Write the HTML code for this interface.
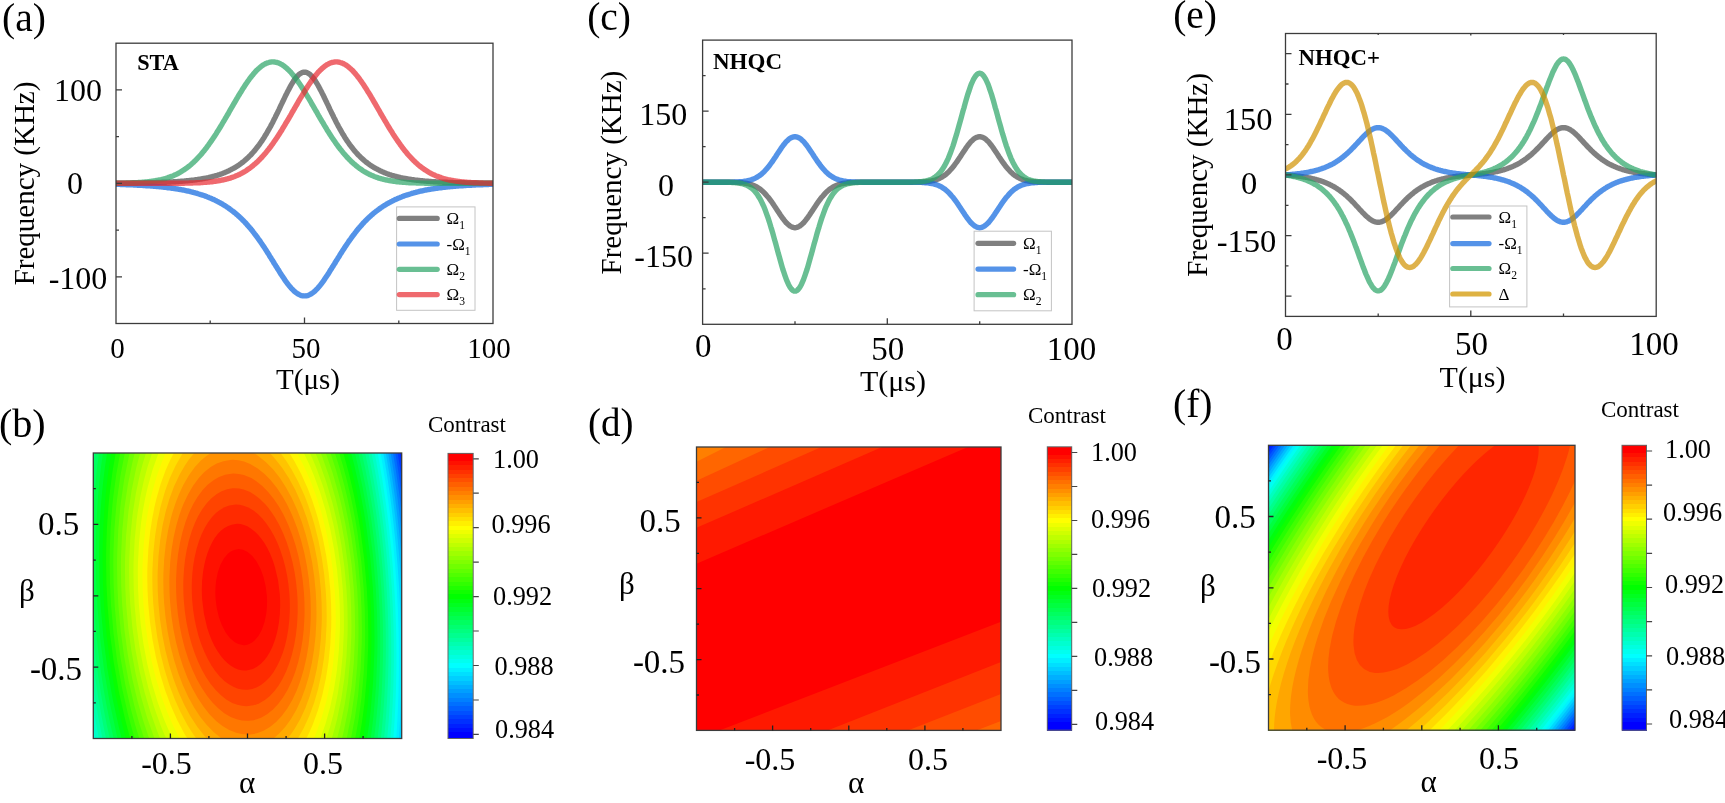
<!DOCTYPE html>
<html><head><meta charset="utf-8"><title>figure</title><style>html,body{margin:0;padding:0;background:#fff;overflow:hidden}svg{display:block;filter:blur(0.4px)}</style></head><body>
<svg width="1725" height="803" viewBox="0 0 1725 803" font-family='"Liberation Serif","DejaVu Serif",serif' fill="#000">
<rect width="1725" height="803" fill="#fff"/>
<clipPath id="cla"><rect x="116" y="43.2" width="377" height="280.3"/></clipPath>
<g clip-path="url(#cla)" fill="none" stroke-linecap="round" stroke-linejoin="round" stroke-width="5.4" >
<polyline stroke="#4a4a4a" stroke-opacity="0.7" points="116.0,183.2 116.9,183.2 117.9,183.2 118.8,183.2 119.8,183.1 120.7,183.1 121.7,183.1 122.6,183.1 123.5,183.1 124.5,183.1 125.4,183.1 126.4,183.1 127.3,183.1 128.3,183.1 129.2,183.1 130.1,183.1 131.1,183.0 132.0,183.0 133.0,183.0 133.9,183.0 134.8,183.0 135.8,183.0 136.7,183.0 137.7,183.0 138.6,182.9 139.6,182.9 140.5,182.9 141.4,182.9 142.4,182.9 143.3,182.9 144.3,182.8 145.2,182.8 146.2,182.8 147.1,182.8 148.0,182.8 149.0,182.7 149.9,182.7 150.9,182.7 151.8,182.7 152.8,182.6 153.7,182.6 154.6,182.6 155.6,182.6 156.5,182.5 157.5,182.5 158.4,182.5 159.4,182.4 160.3,182.4 161.2,182.4 162.2,182.3 163.1,182.3 164.1,182.3 165.0,182.2 166.0,182.2 166.9,182.1 167.8,182.1 168.8,182.1 169.7,182.0 170.7,182.0 171.6,181.9 172.6,181.9 173.5,181.8 174.4,181.7 175.4,181.7 176.3,181.6 177.3,181.6 178.2,181.5 179.1,181.4 180.1,181.4 181.0,181.3 182.0,181.2 182.9,181.1 183.9,181.1 184.8,181.0 185.7,180.9 186.7,180.8 187.6,180.7 188.6,180.6 189.5,180.5 190.5,180.4 191.4,180.3 192.3,180.2 193.3,180.1 194.2,180.0 195.2,179.8 196.1,179.7 197.1,179.6 198.0,179.4 198.9,179.3 199.9,179.1 200.8,179.0 201.8,178.8 202.7,178.7 203.7,178.5 204.6,178.3 205.5,178.1 206.5,178.0 207.4,177.8 208.4,177.6 209.3,177.3 210.2,177.1 211.2,176.9 212.1,176.7 213.1,176.4 214.0,176.2 215.0,175.9 215.9,175.6 216.8,175.4 217.8,175.1 218.7,174.8 219.7,174.5 220.6,174.1 221.6,173.8 222.5,173.5 223.4,173.1 224.4,172.7 225.3,172.3 226.3,171.9 227.2,171.5 228.2,171.1 229.1,170.7 230.0,170.2 231.0,169.7 231.9,169.2 232.9,168.7 233.8,168.2 234.8,167.6 235.7,167.1 236.6,166.5 237.6,165.9 238.5,165.3 239.5,164.6 240.4,163.9 241.4,163.2 242.3,162.5 243.2,161.8 244.2,161.0 245.1,160.2 246.1,159.4 247.0,158.5 247.9,157.7 248.9,156.8 249.8,155.8 250.8,154.9 251.7,153.9 252.7,152.8 253.6,151.8 254.5,150.7 255.5,149.5 256.4,148.3 257.4,147.1 258.3,145.9 259.3,144.6 260.2,143.3 261.1,142.0 262.1,140.6 263.0,139.1 264.0,137.7 264.9,136.1 265.9,134.6 266.8,133.0 267.7,131.4 268.7,129.7 269.6,128.0 270.6,126.3 271.5,124.5 272.5,122.7 273.4,120.9 274.3,119.0 275.3,117.2 276.2,115.2 277.2,113.3 278.1,111.4 279.1,109.4 280.0,107.4 280.9,105.4 281.9,103.4 282.8,101.4 283.8,99.5 284.7,97.5 285.6,95.6 286.6,93.7 287.5,91.8 288.5,90.0 289.4,88.2 290.4,86.4 291.3,84.8 292.2,83.2 293.2,81.7 294.1,80.2 295.1,78.9 296.0,77.7 297.0,76.6 297.9,75.6 298.8,74.7 299.8,73.9 300.7,73.3 301.7,72.8 302.6,72.4 303.6,72.2 304.5,72.2 305.4,72.2 306.4,72.4 307.3,72.8 308.3,73.3 309.2,73.9 310.2,74.7 311.1,75.6 312.0,76.6 313.0,77.7 313.9,78.9 314.9,80.2 315.8,81.7 316.8,83.2 317.7,84.8 318.6,86.4 319.6,88.2 320.5,90.0 321.5,91.8 322.4,93.7 323.4,95.6 324.3,97.5 325.2,99.5 326.2,101.4 327.1,103.4 328.1,105.4 329.0,107.4 329.9,109.4 330.9,111.4 331.8,113.3 332.8,115.2 333.7,117.2 334.7,119.0 335.6,120.9 336.5,122.7 337.5,124.5 338.4,126.3 339.4,128.0 340.3,129.7 341.3,131.4 342.2,133.0 343.1,134.6 344.1,136.1 345.0,137.7 346.0,139.1 346.9,140.6 347.9,142.0 348.8,143.3 349.7,144.6 350.7,145.9 351.6,147.1 352.6,148.3 353.5,149.5 354.5,150.7 355.4,151.8 356.3,152.8 357.3,153.9 358.2,154.9 359.2,155.8 360.1,156.8 361.1,157.7 362.0,158.5 362.9,159.4 363.9,160.2 364.8,161.0 365.8,161.8 366.7,162.5 367.6,163.2 368.6,163.9 369.5,164.6 370.5,165.3 371.4,165.9 372.4,166.5 373.3,167.1 374.2,167.6 375.2,168.2 376.1,168.7 377.1,169.2 378.0,169.7 379.0,170.2 379.9,170.7 380.8,171.1 381.8,171.5 382.7,171.9 383.7,172.3 384.6,172.7 385.6,173.1 386.5,173.5 387.4,173.8 388.4,174.1 389.3,174.5 390.3,174.8 391.2,175.1 392.2,175.4 393.1,175.6 394.0,175.9 395.0,176.2 395.9,176.4 396.9,176.7 397.8,176.9 398.8,177.1 399.7,177.3 400.6,177.6 401.6,177.8 402.5,178.0 403.5,178.1 404.4,178.3 405.3,178.5 406.3,178.7 407.2,178.8 408.2,179.0 409.1,179.1 410.1,179.3 411.0,179.4 411.9,179.6 412.9,179.7 413.8,179.8 414.8,180.0 415.7,180.1 416.7,180.2 417.6,180.3 418.5,180.4 419.5,180.5 420.4,180.6 421.4,180.7 422.3,180.8 423.3,180.9 424.2,181.0 425.1,181.1 426.1,181.1 427.0,181.2 428.0,181.3 428.9,181.4 429.9,181.4 430.8,181.5 431.7,181.6 432.7,181.6 433.6,181.7 434.6,181.7 435.5,181.8 436.4,181.9 437.4,181.9 438.3,182.0 439.3,182.0 440.2,182.1 441.2,182.1 442.1,182.1 443.0,182.2 444.0,182.2 444.9,182.3 445.9,182.3 446.8,182.3 447.8,182.4 448.7,182.4 449.6,182.4 450.6,182.5 451.5,182.5 452.5,182.5 453.4,182.6 454.4,182.6 455.3,182.6 456.2,182.6 457.2,182.7 458.1,182.7 459.1,182.7 460.0,182.7 461.0,182.8 461.9,182.8 462.8,182.8 463.8,182.8 464.7,182.8 465.7,182.9 466.6,182.9 467.6,182.9 468.5,182.9 469.4,182.9 470.4,182.9 471.3,183.0 472.3,183.0 473.2,183.0 474.1,183.0 475.1,183.0 476.0,183.0 477.0,183.0 477.9,183.0 478.9,183.1 479.8,183.1 480.7,183.1 481.7,183.1 482.6,183.1 483.6,183.1 484.5,183.1 485.5,183.1 486.4,183.1 487.3,183.1 488.3,183.1 489.2,183.1 490.2,183.2 491.1,183.2 492.1,183.2 493.0,183.2"/>
<polyline stroke="#0c65de" stroke-opacity="0.7" points="116.0,184.3 116.9,184.3 117.9,184.4 118.8,184.4 119.8,184.4 120.7,184.5 121.7,184.5 122.6,184.5 123.5,184.6 124.5,184.6 125.4,184.6 126.4,184.7 127.3,184.7 128.3,184.7 129.2,184.8 130.1,184.8 131.1,184.8 132.0,184.9 133.0,184.9 133.9,185.0 134.8,185.0 135.8,185.1 136.7,185.1 137.7,185.2 138.6,185.2 139.6,185.3 140.5,185.3 141.4,185.4 142.4,185.4 143.3,185.5 144.3,185.5 145.2,185.6 146.2,185.7 147.1,185.7 148.0,185.8 149.0,185.9 149.9,185.9 150.9,186.0 151.8,186.1 152.8,186.1 153.7,186.2 154.6,186.3 155.6,186.4 156.5,186.5 157.5,186.6 158.4,186.6 159.4,186.7 160.3,186.8 161.2,186.9 162.2,187.0 163.1,187.1 164.1,187.2 165.0,187.3 166.0,187.4 166.9,187.6 167.8,187.7 168.8,187.8 169.7,187.9 170.7,188.0 171.6,188.2 172.6,188.3 173.5,188.4 174.4,188.6 175.4,188.7 176.3,188.9 177.3,189.0 178.2,189.2 179.1,189.4 180.1,189.5 181.0,189.7 182.0,189.9 182.9,190.0 183.9,190.2 184.8,190.4 185.7,190.6 186.7,190.8 187.6,191.0 188.6,191.2 189.5,191.4 190.5,191.7 191.4,191.9 192.3,192.1 193.3,192.4 194.2,192.6 195.2,192.9 196.1,193.1 197.1,193.4 198.0,193.7 198.9,194.0 199.9,194.3 200.8,194.6 201.8,194.9 202.7,195.2 203.7,195.5 204.6,195.8 205.5,196.2 206.5,196.5 207.4,196.9 208.4,197.3 209.3,197.7 210.2,198.0 211.2,198.4 212.1,198.9 213.1,199.3 214.0,199.7 215.0,200.2 215.9,200.6 216.8,201.1 217.8,201.6 218.7,202.1 219.7,202.6 220.6,203.1 221.6,203.7 222.5,204.2 223.4,204.8 224.4,205.3 225.3,205.9 226.3,206.6 227.2,207.2 228.2,207.8 229.1,208.5 230.0,209.2 231.0,209.9 231.9,210.6 232.9,211.3 233.8,212.0 234.8,212.8 235.7,213.6 236.6,214.4 237.6,215.2 238.5,216.1 239.5,216.9 240.4,217.8 241.4,218.7 242.3,219.6 243.2,220.6 244.2,221.5 245.1,222.5 246.1,223.5 247.0,224.6 247.9,225.6 248.9,226.7 249.8,227.8 250.8,228.9 251.7,230.1 252.7,231.3 253.6,232.5 254.5,233.7 255.5,234.9 256.4,236.2 257.4,237.5 258.3,238.8 259.3,240.1 260.2,241.4 261.1,242.8 262.1,244.2 263.0,245.6 264.0,247.0 264.9,248.4 265.9,249.9 266.8,251.4 267.7,252.9 268.7,254.3 269.6,255.9 270.6,257.4 271.5,258.9 272.5,260.4 273.4,262.0 274.3,263.5 275.3,265.0 276.2,266.6 277.2,268.1 278.1,269.6 279.1,271.1 280.0,272.6 280.9,274.1 281.9,275.5 282.8,276.9 283.8,278.3 284.7,279.7 285.6,281.1 286.6,282.4 287.5,283.6 288.5,284.9 289.4,286.0 290.4,287.1 291.3,288.2 292.2,289.2 293.2,290.2 294.1,291.1 295.1,291.9 296.0,292.6 297.0,293.3 297.9,293.9 298.8,294.4 299.8,294.9 300.7,295.3 301.7,295.6 302.6,295.8 303.6,295.9 304.5,295.9 305.4,295.9 306.4,295.8 307.3,295.6 308.3,295.3 309.2,294.9 310.2,294.4 311.1,293.9 312.0,293.3 313.0,292.6 313.9,291.9 314.9,291.1 315.8,290.2 316.8,289.2 317.7,288.2 318.6,287.1 319.6,286.0 320.5,284.9 321.5,283.6 322.4,282.4 323.4,281.1 324.3,279.7 325.2,278.3 326.2,276.9 327.1,275.5 328.1,274.1 329.0,272.6 329.9,271.1 330.9,269.6 331.8,268.1 332.8,266.6 333.7,265.0 334.7,263.5 335.6,262.0 336.5,260.4 337.5,258.9 338.4,257.4 339.4,255.9 340.3,254.3 341.3,252.9 342.2,251.4 343.1,249.9 344.1,248.4 345.0,247.0 346.0,245.6 346.9,244.2 347.9,242.8 348.8,241.4 349.7,240.1 350.7,238.8 351.6,237.5 352.6,236.2 353.5,234.9 354.5,233.7 355.4,232.5 356.3,231.3 357.3,230.1 358.2,228.9 359.2,227.8 360.1,226.7 361.1,225.6 362.0,224.6 362.9,223.5 363.9,222.5 364.8,221.5 365.8,220.6 366.7,219.6 367.6,218.7 368.6,217.8 369.5,216.9 370.5,216.1 371.4,215.2 372.4,214.4 373.3,213.6 374.2,212.8 375.2,212.0 376.1,211.3 377.1,210.6 378.0,209.9 379.0,209.2 379.9,208.5 380.8,207.8 381.8,207.2 382.7,206.6 383.7,205.9 384.6,205.3 385.6,204.8 386.5,204.2 387.4,203.7 388.4,203.1 389.3,202.6 390.3,202.1 391.2,201.6 392.2,201.1 393.1,200.6 394.0,200.2 395.0,199.7 395.9,199.3 396.9,198.9 397.8,198.4 398.8,198.0 399.7,197.7 400.6,197.3 401.6,196.9 402.5,196.5 403.5,196.2 404.4,195.8 405.3,195.5 406.3,195.2 407.2,194.9 408.2,194.6 409.1,194.3 410.1,194.0 411.0,193.7 411.9,193.4 412.9,193.1 413.8,192.9 414.8,192.6 415.7,192.4 416.7,192.1 417.6,191.9 418.5,191.7 419.5,191.4 420.4,191.2 421.4,191.0 422.3,190.8 423.3,190.6 424.2,190.4 425.1,190.2 426.1,190.0 427.0,189.9 428.0,189.7 428.9,189.5 429.9,189.4 430.8,189.2 431.7,189.0 432.7,188.9 433.6,188.7 434.6,188.6 435.5,188.4 436.4,188.3 437.4,188.2 438.3,188.0 439.3,187.9 440.2,187.8 441.2,187.7 442.1,187.6 443.0,187.4 444.0,187.3 444.9,187.2 445.9,187.1 446.8,187.0 447.8,186.9 448.7,186.8 449.6,186.7 450.6,186.6 451.5,186.6 452.5,186.5 453.4,186.4 454.4,186.3 455.3,186.2 456.2,186.1 457.2,186.1 458.1,186.0 459.1,185.9 460.0,185.9 461.0,185.8 461.9,185.7 462.8,185.7 463.8,185.6 464.7,185.5 465.7,185.5 466.6,185.4 467.6,185.4 468.5,185.3 469.4,185.3 470.4,185.2 471.3,185.2 472.3,185.1 473.2,185.1 474.1,185.0 475.1,185.0 476.0,184.9 477.0,184.9 477.9,184.8 478.9,184.8 479.8,184.8 480.7,184.7 481.7,184.7 482.6,184.7 483.6,184.6 484.5,184.6 485.5,184.6 486.4,184.5 487.3,184.5 488.3,184.5 489.2,184.4 490.2,184.4 491.1,184.4 492.1,184.3 493.0,184.3"/>
<polyline stroke="#29a465" stroke-opacity="0.7" points="116.0,183.2 116.9,183.2 117.9,183.2 118.8,183.2 119.8,183.2 120.7,183.2 121.7,183.1 122.6,183.1 123.5,183.1 124.5,183.1 125.4,183.1 126.4,183.0 127.3,183.0 128.3,183.0 129.2,183.0 130.1,182.9 131.1,182.9 132.0,182.9 133.0,182.8 133.9,182.8 134.8,182.7 135.8,182.7 136.7,182.6 137.7,182.6 138.6,182.5 139.6,182.5 140.5,182.4 141.4,182.4 142.4,182.3 143.3,182.2 144.3,182.1 145.2,182.0 146.2,182.0 147.1,181.9 148.0,181.8 149.0,181.6 149.9,181.5 150.9,181.4 151.8,181.3 152.8,181.2 153.7,181.0 154.6,180.9 155.6,180.7 156.5,180.5 157.5,180.4 158.4,180.2 159.4,180.0 160.3,179.8 161.2,179.6 162.2,179.3 163.1,179.1 164.1,178.8 165.0,178.6 166.0,178.3 166.9,178.0 167.8,177.7 168.8,177.4 169.7,177.0 170.7,176.7 171.6,176.3 172.6,176.0 173.5,175.6 174.4,175.1 175.4,174.7 176.3,174.3 177.3,173.8 178.2,173.3 179.1,172.8 180.1,172.3 181.0,171.7 182.0,171.1 182.9,170.5 183.9,169.9 184.8,169.3 185.7,168.6 186.7,168.0 187.6,167.2 188.6,166.5 189.5,165.8 190.5,165.0 191.4,164.2 192.3,163.3 193.3,162.5 194.2,161.6 195.2,160.7 196.1,159.7 197.1,158.8 198.0,157.8 198.9,156.8 199.9,155.7 200.8,154.7 201.8,153.6 202.7,152.4 203.7,151.3 204.6,150.1 205.5,148.9 206.5,147.7 207.4,146.4 208.4,145.1 209.3,143.8 210.2,142.5 211.2,141.2 212.1,139.8 213.1,138.4 214.0,137.0 215.0,135.5 215.9,134.1 216.8,132.6 217.8,131.1 218.7,129.6 219.7,128.0 220.6,126.5 221.6,124.9 222.5,123.3 223.4,121.7 224.4,120.1 225.3,118.5 226.3,116.9 227.2,115.3 228.2,113.7 229.1,112.0 230.0,110.4 231.0,108.7 231.9,107.1 232.9,105.5 233.8,103.8 234.8,102.2 235.7,100.6 236.6,99.0 237.6,97.4 238.5,95.8 239.5,94.2 240.4,92.7 241.4,91.2 242.3,89.7 243.2,88.2 244.2,86.7 245.1,85.3 246.1,83.8 247.0,82.5 247.9,81.1 248.9,79.8 249.8,78.5 250.8,77.3 251.7,76.1 252.7,74.9 253.6,73.8 254.5,72.7 255.5,71.6 256.4,70.6 257.4,69.7 258.3,68.8 259.3,68.0 260.2,67.2 261.1,66.4 262.1,65.7 263.0,65.1 264.0,64.5 264.9,64.0 265.9,63.5 266.8,63.1 267.7,62.8 268.7,62.5 269.6,62.2 270.6,62.1 271.5,61.9 272.5,61.9 273.4,61.9 274.3,62.0 275.3,62.1 276.2,62.3 277.2,62.5 278.1,62.8 279.1,63.2 280.0,63.6 280.9,64.1 281.9,64.6 282.8,65.2 283.8,65.9 284.7,66.6 285.6,67.3 286.6,68.1 287.5,69.0 288.5,69.9 289.4,70.8 290.4,71.8 291.3,72.9 292.2,74.0 293.2,75.1 294.1,76.3 295.1,77.5 296.0,78.8 297.0,80.1 297.9,81.4 298.8,82.7 299.8,84.1 300.7,85.5 301.7,87.0 302.6,88.5 303.6,90.0 304.5,91.5 305.4,93.0 306.4,94.6 307.3,96.1 308.3,97.7 309.2,99.3 310.2,100.9 311.1,102.5 312.0,104.2 313.0,105.8 313.9,107.4 314.9,109.1 315.8,110.7 316.8,112.3 317.7,114.0 318.6,115.6 319.6,117.2 320.5,118.9 321.5,120.5 322.4,122.1 323.4,123.6 324.3,125.2 325.2,126.8 326.2,128.3 327.1,129.9 328.1,131.4 329.0,132.9 329.9,134.4 330.9,135.8 331.8,137.3 332.8,138.7 333.7,140.1 334.7,141.4 335.6,142.8 336.5,144.1 337.5,145.4 338.4,146.7 339.4,147.9 340.3,149.2 341.3,150.3 342.2,151.5 343.1,152.7 344.1,153.8 345.0,154.9 346.0,155.9 346.9,157.0 347.9,158.0 348.8,159.0 349.7,159.9 350.7,160.9 351.6,161.8 352.6,162.6 353.5,163.5 354.5,164.3 355.4,165.1 356.3,165.9 357.3,166.7 358.2,167.4 359.2,168.1 360.1,168.8 361.1,169.4 362.0,170.1 362.9,170.7 363.9,171.3 364.8,171.8 365.8,172.4 366.7,172.9 367.6,173.4 368.6,173.9 369.5,174.4 370.5,174.8 371.4,175.2 372.4,175.6 373.3,176.0 374.2,176.4 375.2,176.8 376.1,177.1 377.1,177.4 378.0,177.8 379.0,178.1 379.9,178.4 380.8,178.6 381.8,178.9 382.7,179.1 383.7,179.4 384.6,179.6 385.6,179.8 386.5,180.0 387.4,180.2 388.4,180.4 389.3,180.6 390.3,180.7 391.2,180.9 392.2,181.0 393.1,181.2 394.0,181.3 395.0,181.4 395.9,181.6 396.9,181.7 397.8,181.8 398.8,181.9 399.7,182.0 400.6,182.1 401.6,182.1 402.5,182.2 403.5,182.3 404.4,182.4 405.3,182.4 406.3,182.5 407.2,182.6 408.2,182.6 409.1,182.7 410.1,182.7 411.0,182.8 411.9,182.8 412.9,182.8 413.8,182.9 414.8,182.9 415.7,182.9 416.7,183.0 417.6,183.0 418.5,183.0 419.5,183.0 420.4,183.1 421.4,183.1 422.3,183.1 423.3,183.1 424.2,183.1 425.1,183.2 426.1,183.2 427.0,183.2 428.0,183.2 428.9,183.2 429.9,183.2 430.8,183.2 431.7,183.2 432.7,183.3 433.6,183.3 434.6,183.3 435.5,183.3 436.4,183.3 437.4,183.3 438.3,183.3 439.3,183.3 440.2,183.3 441.2,183.3 442.1,183.3 443.0,183.3 444.0,183.3 444.9,183.3 445.9,183.3 446.8,183.3 447.8,183.3 448.7,183.3 449.6,183.3 450.6,183.3 451.5,183.3 452.5,183.3 453.4,183.3 454.4,183.3 455.3,183.3 456.2,183.3 457.2,183.3 458.1,183.3 459.1,183.3 460.0,183.3 461.0,183.3 461.9,183.3 462.8,183.3 463.8,183.3 464.7,183.3 465.7,183.3 466.6,183.3 467.6,183.3 468.5,183.3 469.4,183.3 470.4,183.3 471.3,183.3 472.3,183.3 473.2,183.3 474.1,183.3 475.1,183.3 476.0,183.3 477.0,183.3 477.9,183.3 478.9,183.3 479.8,183.3 480.7,183.3 481.7,183.3 482.6,183.3 483.6,183.3 484.5,183.3 485.5,183.3 486.4,183.3 487.3,183.3 488.3,183.3 489.2,183.3 490.2,183.3 491.1,183.3 492.1,183.3 493.0,183.3"/>
<polyline stroke="#e82a30" stroke-opacity="0.7" points="116.0,183.3 116.9,183.3 117.9,183.3 118.8,183.3 119.8,183.3 120.7,183.3 121.7,183.3 122.6,183.3 123.5,183.3 124.5,183.3 125.4,183.3 126.4,183.3 127.3,183.3 128.3,183.3 129.2,183.3 130.1,183.3 131.1,183.3 132.0,183.3 133.0,183.3 133.9,183.3 134.8,183.3 135.8,183.3 136.7,183.3 137.7,183.3 138.6,183.3 139.6,183.3 140.5,183.3 141.4,183.3 142.4,183.3 143.3,183.3 144.3,183.3 145.2,183.3 146.2,183.3 147.1,183.3 148.0,183.3 149.0,183.3 149.9,183.3 150.9,183.3 151.8,183.3 152.8,183.3 153.7,183.3 154.6,183.3 155.6,183.3 156.5,183.3 157.5,183.3 158.4,183.3 159.4,183.3 160.3,183.3 161.2,183.3 162.2,183.3 163.1,183.3 164.1,183.3 165.0,183.3 166.0,183.3 166.9,183.3 167.8,183.3 168.8,183.3 169.7,183.3 170.7,183.3 171.6,183.3 172.6,183.3 173.5,183.3 174.4,183.3 175.4,183.3 176.3,183.3 177.3,183.2 178.2,183.2 179.1,183.2 180.1,183.2 181.0,183.2 182.0,183.2 182.9,183.2 183.9,183.2 184.8,183.1 185.7,183.1 186.7,183.1 187.6,183.1 188.6,183.1 189.5,183.0 190.5,183.0 191.4,183.0 192.3,183.0 193.3,182.9 194.2,182.9 195.2,182.9 196.1,182.8 197.1,182.8 198.0,182.8 198.9,182.7 199.9,182.7 200.8,182.6 201.8,182.6 202.7,182.5 203.7,182.4 204.6,182.4 205.5,182.3 206.5,182.2 207.4,182.1 208.4,182.1 209.3,182.0 210.2,181.9 211.2,181.8 212.1,181.7 213.1,181.6 214.0,181.4 215.0,181.3 215.9,181.2 216.8,181.0 217.8,180.9 218.7,180.7 219.7,180.6 220.6,180.4 221.6,180.2 222.5,180.0 223.4,179.8 224.4,179.6 225.3,179.4 226.3,179.1 227.2,178.9 228.2,178.6 229.1,178.4 230.0,178.1 231.0,177.8 231.9,177.4 232.9,177.1 233.8,176.8 234.8,176.4 235.7,176.0 236.6,175.6 237.6,175.2 238.5,174.8 239.5,174.4 240.4,173.9 241.4,173.4 242.3,172.9 243.2,172.4 244.2,171.8 245.1,171.3 246.1,170.7 247.0,170.1 247.9,169.4 248.9,168.8 249.8,168.1 250.8,167.4 251.7,166.7 252.7,165.9 253.6,165.1 254.5,164.3 255.5,163.5 256.4,162.6 257.4,161.8 258.3,160.9 259.3,159.9 260.2,159.0 261.1,158.0 262.1,157.0 263.0,155.9 264.0,154.9 264.9,153.8 265.9,152.7 266.8,151.5 267.7,150.3 268.7,149.2 269.6,147.9 270.6,146.7 271.5,145.4 272.5,144.1 273.4,142.8 274.3,141.4 275.3,140.1 276.2,138.7 277.2,137.3 278.1,135.8 279.1,134.4 280.0,132.9 280.9,131.4 281.9,129.9 282.8,128.3 283.8,126.8 284.7,125.2 285.6,123.6 286.6,122.1 287.5,120.5 288.5,118.9 289.4,117.2 290.4,115.6 291.3,114.0 292.2,112.3 293.2,110.7 294.1,109.1 295.1,107.4 296.0,105.8 297.0,104.2 297.9,102.5 298.8,100.9 299.8,99.3 300.7,97.7 301.7,96.1 302.6,94.6 303.6,93.0 304.5,91.5 305.4,90.0 306.4,88.5 307.3,87.0 308.3,85.5 309.2,84.1 310.2,82.7 311.1,81.4 312.0,80.1 313.0,78.8 313.9,77.5 314.9,76.3 315.8,75.1 316.8,74.0 317.7,72.9 318.6,71.8 319.6,70.8 320.5,69.9 321.5,69.0 322.4,68.1 323.4,67.3 324.3,66.6 325.2,65.9 326.2,65.2 327.1,64.6 328.1,64.1 329.0,63.6 329.9,63.2 330.9,62.8 331.8,62.5 332.8,62.3 333.7,62.1 334.7,62.0 335.6,61.9 336.5,61.9 337.5,61.9 338.4,62.1 339.4,62.2 340.3,62.5 341.3,62.8 342.2,63.1 343.1,63.5 344.1,64.0 345.0,64.5 346.0,65.1 346.9,65.7 347.9,66.4 348.8,67.2 349.7,68.0 350.7,68.8 351.6,69.7 352.6,70.6 353.5,71.6 354.5,72.7 355.4,73.8 356.3,74.9 357.3,76.1 358.2,77.3 359.2,78.5 360.1,79.8 361.1,81.1 362.0,82.5 362.9,83.8 363.9,85.3 364.8,86.7 365.8,88.2 366.7,89.7 367.6,91.2 368.6,92.7 369.5,94.2 370.5,95.8 371.4,97.4 372.4,99.0 373.3,100.6 374.2,102.2 375.2,103.8 376.1,105.5 377.1,107.1 378.0,108.7 379.0,110.4 379.9,112.0 380.8,113.7 381.8,115.3 382.7,116.9 383.7,118.5 384.6,120.1 385.6,121.7 386.5,123.3 387.4,124.9 388.4,126.5 389.3,128.0 390.3,129.6 391.2,131.1 392.2,132.6 393.1,134.1 394.0,135.5 395.0,137.0 395.9,138.4 396.9,139.8 397.8,141.2 398.8,142.5 399.7,143.8 400.6,145.1 401.6,146.4 402.5,147.7 403.5,148.9 404.4,150.1 405.3,151.3 406.3,152.4 407.2,153.6 408.2,154.7 409.1,155.7 410.1,156.8 411.0,157.8 411.9,158.8 412.9,159.7 413.8,160.7 414.8,161.6 415.7,162.5 416.7,163.3 417.6,164.2 418.5,165.0 419.5,165.8 420.4,166.5 421.4,167.2 422.3,168.0 423.3,168.6 424.2,169.3 425.1,169.9 426.1,170.5 427.0,171.1 428.0,171.7 428.9,172.3 429.9,172.8 430.8,173.3 431.7,173.8 432.7,174.3 433.6,174.7 434.6,175.1 435.5,175.6 436.4,176.0 437.4,176.3 438.3,176.7 439.3,177.0 440.2,177.4 441.2,177.7 442.1,178.0 443.0,178.3 444.0,178.6 444.9,178.8 445.9,179.1 446.8,179.3 447.8,179.6 448.7,179.8 449.6,180.0 450.6,180.2 451.5,180.4 452.5,180.5 453.4,180.7 454.4,180.9 455.3,181.0 456.2,181.2 457.2,181.3 458.1,181.4 459.1,181.5 460.0,181.6 461.0,181.8 461.9,181.9 462.8,182.0 463.8,182.0 464.7,182.1 465.7,182.2 466.6,182.3 467.6,182.4 468.5,182.4 469.4,182.5 470.4,182.5 471.3,182.6 472.3,182.6 473.2,182.7 474.1,182.7 475.1,182.8 476.0,182.8 477.0,182.9 477.9,182.9 478.9,182.9 479.8,183.0 480.7,183.0 481.7,183.0 482.6,183.0 483.6,183.1 484.5,183.1 485.5,183.1 486.4,183.1 487.3,183.1 488.3,183.2 489.2,183.2 490.2,183.2 491.1,183.2 492.1,183.2 493.0,183.2"/>
</g>
<rect x="116" y="43.2" width="377" height="280.3" fill="none" stroke="#3c3c3c" stroke-width="1.3"/>
<path d="M210.2 323.5v-3 M304.5 323.5v-6 M398.8 323.5v-3 M116 89.9h6 M116 136.6h3 M116 183.4h6 M116 230.1h3 M116 276.8h6" stroke="#3c3c3c" stroke-width="1.3" fill="none"/>
<text x="117.5" y="357.5" font-size="29" text-anchor="middle" font-weight="normal" >0</text>
<text x="306.0" y="357.5" font-size="29" text-anchor="middle" font-weight="normal" >50</text>
<text x="489.0" y="357.5" font-size="29" text-anchor="middle" font-weight="normal" >100</text>
<text x="308.0" y="388.5" font-size="29" text-anchor="middle" font-weight="normal" >T(μs)</text>
<text x="78.0" y="100.8" font-size="32" text-anchor="middle" font-weight="normal" >100</text>
<text x="75.0" y="194.0" font-size="32" text-anchor="middle" font-weight="normal" >0</text>
<text x="78.0" y="289.4" font-size="32" text-anchor="middle" font-weight="normal" >-100</text>
<text transform="translate(33.5,183.5) rotate(-90)" font-size="29" text-anchor="middle">Frequency (KHz)</text>
<text x="137.2" y="69.7" font-size="22.3" text-anchor="start" font-weight="bold" >STA</text>
<text x="2.0" y="30.5" font-size="39.5" text-anchor="start" font-weight="normal" >(a)</text>
<rect x="396.6" y="206.9" width="78.39999999999998" height="103.4" fill="#fff" stroke="#c4c4c4" stroke-width="1"/>
<line x1="399.3" y1="218.4" x2="437.2" y2="218.4" stroke="#808080" stroke-width="5.2" stroke-linecap="round"/>
<text x="446.5" y="224.0" font-size="17">Ω<tspan font-size="11.6" dy="5.1">1</tspan></text>
<line x1="399.3" y1="244" x2="437.2" y2="244" stroke="#5593e8" stroke-width="5.2" stroke-linecap="round"/>
<text x="446.5" y="249.6" font-size="17">-Ω<tspan font-size="11.6" dy="5.1">1</tspan></text>
<line x1="399.3" y1="269.3" x2="437.2" y2="269.3" stroke="#69bf93" stroke-width="5.2" stroke-linecap="round"/>
<text x="446.5" y="274.9" font-size="17">Ω<tspan font-size="11.6" dy="5.1">2</tspan></text>
<line x1="399.3" y1="294.6" x2="437.2" y2="294.6" stroke="#ef6a6e" stroke-width="5.2" stroke-linecap="round"/>
<text x="446.5" y="300.2" font-size="17">Ω<tspan font-size="11.6" dy="5.1">3</tspan></text>
<clipPath id="clc"><rect x="702.6" y="40.1" width="369.4" height="284.2"/></clipPath>
<g clip-path="url(#clc)" fill="none" stroke-linecap="round" stroke-linejoin="round" stroke-width="5.4" >
<polyline stroke="#4a4a4a" stroke-opacity="0.7" points="702.6,182.2 703.5,182.2 704.4,182.2 705.4,182.2 706.3,182.2 707.2,182.2 708.1,182.2 709.1,182.2 710.0,182.2 710.9,182.2 711.8,182.2 712.8,182.2 713.7,182.2 714.6,182.2 715.5,182.2 716.5,182.2 717.4,182.2 718.3,182.2 719.2,182.2 720.1,182.2 721.1,182.2 722.0,182.2 722.9,182.2 723.8,182.2 724.8,182.2 725.7,182.2 726.6,182.2 727.5,182.2 728.5,182.3 729.4,182.3 730.3,182.3 731.2,182.3 732.2,182.3 733.1,182.3 734.0,182.3 734.9,182.4 735.8,182.4 736.8,182.4 737.7,182.5 738.6,182.5 739.5,182.6 740.5,182.7 741.4,182.7 742.3,182.8 743.2,182.9 744.2,183.1 745.1,183.2 746.0,183.3 746.9,183.5 747.9,183.7 748.8,183.9 749.7,184.1 750.6,184.4 751.5,184.7 752.5,185.0 753.4,185.4 754.3,185.8 755.2,186.2 756.2,186.7 757.1,187.2 758.0,187.8 758.9,188.4 759.9,189.0 760.8,189.7 761.7,190.5 762.6,191.3 763.6,192.2 764.5,193.1 765.4,194.1 766.3,195.1 767.2,196.2 768.2,197.3 769.1,198.4 770.0,199.7 770.9,200.9 771.9,202.2 772.8,203.5 773.7,204.9 774.6,206.3 775.6,207.7 776.5,209.1 777.4,210.5 778.3,211.9 779.3,213.3 780.2,214.7 781.1,216.0 782.0,217.4 782.9,218.6 783.9,219.8 784.8,221.0 785.7,222.1 786.6,223.1 787.6,224.0 788.5,224.8 789.4,225.6 790.3,226.2 791.3,226.7 792.2,227.1 793.1,227.4 794.0,227.6 795.0,227.7 795.9,227.6 796.8,227.4 797.7,227.1 798.6,226.7 799.6,226.2 800.5,225.6 801.4,224.8 802.3,224.0 803.3,223.1 804.2,222.1 805.1,221.0 806.0,219.8 807.0,218.6 807.9,217.4 808.8,216.0 809.7,214.7 810.6,213.3 811.6,211.9 812.5,210.5 813.4,209.1 814.3,207.7 815.3,206.3 816.2,204.9 817.1,203.5 818.0,202.2 819.0,200.9 819.9,199.7 820.8,198.4 821.7,197.3 822.7,196.2 823.6,195.1 824.5,194.1 825.4,193.1 826.3,192.2 827.3,191.3 828.2,190.5 829.1,189.7 830.0,189.0 831.0,188.4 831.9,187.8 832.8,187.2 833.7,186.7 834.7,186.2 835.6,185.8 836.5,185.4 837.4,185.0 838.4,184.7 839.3,184.4 840.2,184.1 841.1,183.9 842.0,183.7 843.0,183.5 843.9,183.3 844.8,183.2 845.7,183.1 846.7,182.9 847.6,182.8 848.5,182.7 849.4,182.7 850.4,182.6 851.3,182.5 852.2,182.5 853.1,182.4 854.1,182.4 855.0,182.4 855.9,182.3 856.8,182.3 857.7,182.3 858.7,182.3 859.6,182.3 860.5,182.3 861.4,182.3 862.4,182.2 863.3,182.2 864.2,182.2 865.1,182.2 866.1,182.2 867.0,182.2 867.9,182.2 868.8,182.2 869.8,182.2 870.7,182.2 871.6,182.2 872.5,182.2 873.4,182.2 874.4,182.2 875.3,182.2 876.2,182.2 877.1,182.2 878.1,182.2 879.0,182.2 879.9,182.2 880.8,182.2 881.8,182.2 882.7,182.2 883.6,182.2 884.5,182.2 885.5,182.2 886.4,182.2 887.3,182.2 888.2,182.2 889.1,182.2 890.1,182.2 891.0,182.2 891.9,182.2 892.8,182.2 893.8,182.2 894.7,182.2 895.6,182.2 896.5,182.2 897.5,182.2 898.4,182.2 899.3,182.2 900.2,182.2 901.2,182.2 902.1,182.2 903.0,182.2 903.9,182.2 904.8,182.2 905.8,182.2 906.7,182.2 907.6,182.2 908.5,182.2 909.5,182.2 910.4,182.2 911.3,182.2 912.2,182.2 913.2,182.1 914.1,182.1 915.0,182.1 915.9,182.1 916.9,182.1 917.8,182.1 918.7,182.1 919.6,182.0 920.5,182.0 921.5,182.0 922.4,181.9 923.3,181.9 924.2,181.8 925.2,181.7 926.1,181.7 927.0,181.6 927.9,181.5 928.9,181.3 929.8,181.2 930.7,181.1 931.6,180.9 932.6,180.7 933.5,180.5 934.4,180.3 935.3,180.0 936.2,179.7 937.2,179.4 938.1,179.0 939.0,178.6 939.9,178.2 940.9,177.7 941.8,177.2 942.7,176.6 943.6,176.0 944.6,175.4 945.5,174.7 946.4,173.9 947.3,173.1 948.3,172.2 949.2,171.3 950.1,170.3 951.0,169.3 951.9,168.2 952.9,167.1 953.8,166.0 954.7,164.7 955.6,163.5 956.6,162.2 957.5,160.9 958.4,159.5 959.3,158.1 960.3,156.7 961.2,155.3 962.1,153.9 963.0,152.5 964.0,151.1 964.9,149.7 965.8,148.4 966.7,147.0 967.6,145.8 968.6,144.6 969.5,143.4 970.4,142.3 971.3,141.3 972.3,140.4 973.2,139.6 974.1,138.8 975.0,138.2 976.0,137.7 976.9,137.3 977.8,137.0 978.7,136.8 979.7,136.7 980.6,136.8 981.5,137.0 982.4,137.3 983.3,137.7 984.3,138.2 985.2,138.8 986.1,139.6 987.0,140.4 988.0,141.3 988.9,142.3 989.8,143.4 990.7,144.6 991.7,145.8 992.6,147.0 993.5,148.4 994.4,149.7 995.3,151.1 996.3,152.5 997.2,153.9 998.1,155.3 999.0,156.7 1000.0,158.1 1000.9,159.5 1001.8,160.9 1002.7,162.2 1003.7,163.5 1004.6,164.7 1005.5,166.0 1006.4,167.1 1007.4,168.2 1008.3,169.3 1009.2,170.3 1010.1,171.3 1011.0,172.2 1012.0,173.1 1012.9,173.9 1013.8,174.7 1014.7,175.4 1015.7,176.0 1016.6,176.6 1017.5,177.2 1018.4,177.7 1019.4,178.2 1020.3,178.6 1021.2,179.0 1022.1,179.4 1023.1,179.7 1024.0,180.0 1024.9,180.3 1025.8,180.5 1026.7,180.7 1027.7,180.9 1028.6,181.1 1029.5,181.2 1030.4,181.3 1031.4,181.5 1032.3,181.6 1033.2,181.7 1034.1,181.7 1035.1,181.8 1036.0,181.9 1036.9,181.9 1037.8,182.0 1038.8,182.0 1039.7,182.0 1040.6,182.1 1041.5,182.1 1042.4,182.1 1043.4,182.1 1044.3,182.1 1045.2,182.1 1046.1,182.1 1047.1,182.2 1048.0,182.2 1048.9,182.2 1049.8,182.2 1050.8,182.2 1051.7,182.2 1052.6,182.2 1053.5,182.2 1054.5,182.2 1055.4,182.2 1056.3,182.2 1057.2,182.2 1058.1,182.2 1059.1,182.2 1060.0,182.2 1060.9,182.2 1061.8,182.2 1062.8,182.2 1063.7,182.2 1064.6,182.2 1065.5,182.2 1066.5,182.2 1067.4,182.2 1068.3,182.2 1069.2,182.2 1070.2,182.2 1071.1,182.2 1072.0,182.2"/>
<polyline stroke="#0c65de" stroke-opacity="0.7" points="702.6,182.2 703.5,182.2 704.4,182.2 705.4,182.2 706.3,182.2 707.2,182.2 708.1,182.2 709.1,182.2 710.0,182.2 710.9,182.2 711.8,182.2 712.8,182.2 713.7,182.2 714.6,182.2 715.5,182.2 716.5,182.2 717.4,182.2 718.3,182.2 719.2,182.2 720.1,182.2 721.1,182.2 722.0,182.2 722.9,182.2 723.8,182.2 724.8,182.2 725.7,182.2 726.6,182.2 727.5,182.2 728.5,182.1 729.4,182.1 730.3,182.1 731.2,182.1 732.2,182.1 733.1,182.1 734.0,182.1 734.9,182.0 735.8,182.0 736.8,182.0 737.7,181.9 738.6,181.9 739.5,181.8 740.5,181.7 741.4,181.7 742.3,181.6 743.2,181.5 744.2,181.3 745.1,181.2 746.0,181.1 746.9,180.9 747.9,180.7 748.8,180.5 749.7,180.3 750.6,180.0 751.5,179.7 752.5,179.4 753.4,179.0 754.3,178.6 755.2,178.2 756.2,177.7 757.1,177.2 758.0,176.6 758.9,176.0 759.9,175.4 760.8,174.7 761.7,173.9 762.6,173.1 763.6,172.2 764.5,171.3 765.4,170.3 766.3,169.3 767.2,168.2 768.2,167.1 769.1,166.0 770.0,164.7 770.9,163.5 771.9,162.2 772.8,160.9 773.7,159.5 774.6,158.1 775.6,156.7 776.5,155.3 777.4,153.9 778.3,152.5 779.3,151.1 780.2,149.7 781.1,148.4 782.0,147.0 782.9,145.8 783.9,144.6 784.8,143.4 785.7,142.3 786.6,141.3 787.6,140.4 788.5,139.6 789.4,138.8 790.3,138.2 791.3,137.7 792.2,137.3 793.1,137.0 794.0,136.8 795.0,136.7 795.9,136.8 796.8,137.0 797.7,137.3 798.6,137.7 799.6,138.2 800.5,138.8 801.4,139.6 802.3,140.4 803.3,141.3 804.2,142.3 805.1,143.4 806.0,144.6 807.0,145.8 807.9,147.0 808.8,148.4 809.7,149.7 810.6,151.1 811.6,152.5 812.5,153.9 813.4,155.3 814.3,156.7 815.3,158.1 816.2,159.5 817.1,160.9 818.0,162.2 819.0,163.5 819.9,164.7 820.8,166.0 821.7,167.1 822.7,168.2 823.6,169.3 824.5,170.3 825.4,171.3 826.3,172.2 827.3,173.1 828.2,173.9 829.1,174.7 830.0,175.4 831.0,176.0 831.9,176.6 832.8,177.2 833.7,177.7 834.7,178.2 835.6,178.6 836.5,179.0 837.4,179.4 838.4,179.7 839.3,180.0 840.2,180.3 841.1,180.5 842.0,180.7 843.0,180.9 843.9,181.1 844.8,181.2 845.7,181.3 846.7,181.5 847.6,181.6 848.5,181.7 849.4,181.7 850.4,181.8 851.3,181.9 852.2,181.9 853.1,182.0 854.1,182.0 855.0,182.0 855.9,182.1 856.8,182.1 857.7,182.1 858.7,182.1 859.6,182.1 860.5,182.1 861.4,182.1 862.4,182.2 863.3,182.2 864.2,182.2 865.1,182.2 866.1,182.2 867.0,182.2 867.9,182.2 868.8,182.2 869.8,182.2 870.7,182.2 871.6,182.2 872.5,182.2 873.4,182.2 874.4,182.2 875.3,182.2 876.2,182.2 877.1,182.2 878.1,182.2 879.0,182.2 879.9,182.2 880.8,182.2 881.8,182.2 882.7,182.2 883.6,182.2 884.5,182.2 885.5,182.2 886.4,182.2 887.3,182.2 888.2,182.2 889.1,182.2 890.1,182.2 891.0,182.2 891.9,182.2 892.8,182.2 893.8,182.2 894.7,182.2 895.6,182.2 896.5,182.2 897.5,182.2 898.4,182.2 899.3,182.2 900.2,182.2 901.2,182.2 902.1,182.2 903.0,182.2 903.9,182.2 904.8,182.2 905.8,182.2 906.7,182.2 907.6,182.2 908.5,182.2 909.5,182.2 910.4,182.2 911.3,182.2 912.2,182.2 913.2,182.3 914.1,182.3 915.0,182.3 915.9,182.3 916.9,182.3 917.8,182.3 918.7,182.3 919.6,182.4 920.5,182.4 921.5,182.4 922.4,182.5 923.3,182.5 924.2,182.6 925.2,182.7 926.1,182.7 927.0,182.8 927.9,182.9 928.9,183.1 929.8,183.2 930.7,183.3 931.6,183.5 932.6,183.7 933.5,183.9 934.4,184.1 935.3,184.4 936.2,184.7 937.2,185.0 938.1,185.4 939.0,185.8 939.9,186.2 940.9,186.7 941.8,187.2 942.7,187.8 943.6,188.4 944.6,189.0 945.5,189.7 946.4,190.5 947.3,191.3 948.3,192.2 949.2,193.1 950.1,194.1 951.0,195.1 951.9,196.2 952.9,197.3 953.8,198.4 954.7,199.7 955.6,200.9 956.6,202.2 957.5,203.5 958.4,204.9 959.3,206.3 960.3,207.7 961.2,209.1 962.1,210.5 963.0,211.9 964.0,213.3 964.9,214.7 965.8,216.0 966.7,217.4 967.6,218.6 968.6,219.8 969.5,221.0 970.4,222.1 971.3,223.1 972.3,224.0 973.2,224.8 974.1,225.6 975.0,226.2 976.0,226.7 976.9,227.1 977.8,227.4 978.7,227.6 979.7,227.7 980.6,227.6 981.5,227.4 982.4,227.1 983.3,226.7 984.3,226.2 985.2,225.6 986.1,224.8 987.0,224.0 988.0,223.1 988.9,222.1 989.8,221.0 990.7,219.8 991.7,218.6 992.6,217.4 993.5,216.0 994.4,214.7 995.3,213.3 996.3,211.9 997.2,210.5 998.1,209.1 999.0,207.7 1000.0,206.3 1000.9,204.9 1001.8,203.5 1002.7,202.2 1003.7,200.9 1004.6,199.7 1005.5,198.4 1006.4,197.3 1007.4,196.2 1008.3,195.1 1009.2,194.1 1010.1,193.1 1011.0,192.2 1012.0,191.3 1012.9,190.5 1013.8,189.7 1014.7,189.0 1015.7,188.4 1016.6,187.8 1017.5,187.2 1018.4,186.7 1019.4,186.2 1020.3,185.8 1021.2,185.4 1022.1,185.0 1023.1,184.7 1024.0,184.4 1024.9,184.1 1025.8,183.9 1026.7,183.7 1027.7,183.5 1028.6,183.3 1029.5,183.2 1030.4,183.1 1031.4,182.9 1032.3,182.8 1033.2,182.7 1034.1,182.7 1035.1,182.6 1036.0,182.5 1036.9,182.5 1037.8,182.4 1038.8,182.4 1039.7,182.4 1040.6,182.3 1041.5,182.3 1042.4,182.3 1043.4,182.3 1044.3,182.3 1045.2,182.3 1046.1,182.3 1047.1,182.2 1048.0,182.2 1048.9,182.2 1049.8,182.2 1050.8,182.2 1051.7,182.2 1052.6,182.2 1053.5,182.2 1054.5,182.2 1055.4,182.2 1056.3,182.2 1057.2,182.2 1058.1,182.2 1059.1,182.2 1060.0,182.2 1060.9,182.2 1061.8,182.2 1062.8,182.2 1063.7,182.2 1064.6,182.2 1065.5,182.2 1066.5,182.2 1067.4,182.2 1068.3,182.2 1069.2,182.2 1070.2,182.2 1071.1,182.2 1072.0,182.2"/>
<polyline stroke="#29a465" stroke-opacity="0.7" points="702.6,182.2 703.5,182.2 704.4,182.2 705.4,182.2 706.3,182.2 707.2,182.2 708.1,182.2 709.1,182.2 710.0,182.2 710.9,182.2 711.8,182.2 712.8,182.2 713.7,182.2 714.6,182.2 715.5,182.2 716.5,182.2 717.4,182.2 718.3,182.2 719.2,182.2 720.1,182.2 721.1,182.2 722.0,182.2 722.9,182.2 723.8,182.2 724.8,182.3 725.7,182.3 726.6,182.3 727.5,182.3 728.5,182.3 729.4,182.3 730.3,182.4 731.2,182.4 732.2,182.5 733.1,182.5 734.0,182.6 734.9,182.6 735.8,182.7 736.8,182.8 737.7,182.9 738.6,183.0 739.5,183.2 740.5,183.3 741.4,183.5 742.3,183.7 743.2,184.0 744.2,184.3 745.1,184.6 746.0,184.9 746.9,185.3 747.9,185.8 748.8,186.3 749.7,186.9 750.6,187.5 751.5,188.2 752.5,189.0 753.4,189.8 754.3,190.8 755.2,191.8 756.2,193.0 757.1,194.2 758.0,195.5 758.9,197.0 759.9,198.6 760.8,200.3 761.7,202.1 762.6,204.0 763.6,206.1 764.5,208.3 765.4,210.6 766.3,213.1 767.2,215.6 768.2,218.3 769.1,221.1 770.0,224.0 770.9,227.1 771.9,230.2 772.8,233.3 773.7,236.6 774.6,239.9 775.6,243.3 776.5,246.6 777.4,250.0 778.3,253.4 779.3,256.7 780.2,260.0 781.1,263.3 782.0,266.4 782.9,269.5 783.9,272.4 784.8,275.1 785.7,277.7 786.6,280.2 787.6,282.4 788.5,284.4 789.4,286.1 790.3,287.6 791.3,288.9 792.2,289.9 793.1,290.6 794.0,291.0 795.0,291.1 795.9,291.0 796.8,290.6 797.7,289.9 798.6,288.9 799.6,287.6 800.5,286.1 801.4,284.4 802.3,282.4 803.3,280.2 804.2,277.7 805.1,275.1 806.0,272.4 807.0,269.5 807.9,266.4 808.8,263.3 809.7,260.0 810.6,256.7 811.6,253.4 812.5,250.0 813.4,246.6 814.3,243.3 815.3,239.9 816.2,236.6 817.1,233.3 818.0,230.2 819.0,227.1 819.9,224.0 820.8,221.1 821.7,218.3 822.7,215.6 823.6,213.1 824.5,210.6 825.4,208.3 826.3,206.1 827.3,204.0 828.2,202.1 829.1,200.3 830.0,198.6 831.0,197.0 831.9,195.5 832.8,194.2 833.7,193.0 834.7,191.8 835.6,190.8 836.5,189.8 837.4,189.0 838.4,188.2 839.3,187.5 840.2,186.9 841.1,186.3 842.0,185.8 843.0,185.3 843.9,184.9 844.8,184.6 845.7,184.3 846.7,184.0 847.6,183.7 848.5,183.5 849.4,183.3 850.4,183.2 851.3,183.0 852.2,182.9 853.1,182.8 854.1,182.7 855.0,182.6 855.9,182.6 856.8,182.5 857.7,182.5 858.7,182.4 859.6,182.4 860.5,182.3 861.4,182.3 862.4,182.3 863.3,182.3 864.2,182.3 865.1,182.3 866.1,182.2 867.0,182.2 867.9,182.2 868.8,182.2 869.8,182.2 870.7,182.2 871.6,182.2 872.5,182.2 873.4,182.2 874.4,182.2 875.3,182.2 876.2,182.2 877.1,182.2 878.1,182.2 879.0,182.2 879.9,182.2 880.8,182.2 881.8,182.2 882.7,182.2 883.6,182.2 884.5,182.2 885.5,182.2 886.4,182.2 887.3,182.2 888.2,182.2 889.1,182.2 890.1,182.2 891.0,182.2 891.9,182.2 892.8,182.2 893.8,182.2 894.7,182.2 895.6,182.2 896.5,182.2 897.5,182.2 898.4,182.2 899.3,182.2 900.2,182.2 901.2,182.2 902.1,182.2 903.0,182.2 903.9,182.2 904.8,182.2 905.8,182.2 906.7,182.2 907.6,182.2 908.5,182.2 909.5,182.1 910.4,182.1 911.3,182.1 912.2,182.1 913.2,182.1 914.1,182.1 915.0,182.0 915.9,182.0 916.9,181.9 917.8,181.9 918.7,181.8 919.6,181.8 920.5,181.7 921.5,181.6 922.4,181.5 923.3,181.4 924.2,181.2 925.2,181.1 926.1,180.9 927.0,180.7 927.9,180.4 928.9,180.1 929.8,179.8 930.7,179.5 931.6,179.1 932.6,178.6 933.5,178.1 934.4,177.5 935.3,176.9 936.2,176.2 937.2,175.4 938.1,174.6 939.0,173.6 939.9,172.6 940.9,171.4 941.8,170.2 942.7,168.9 943.6,167.4 944.6,165.8 945.5,164.1 946.4,162.3 947.3,160.4 948.3,158.3 949.2,156.1 950.1,153.8 951.0,151.3 951.9,148.8 952.9,146.1 953.8,143.3 954.7,140.4 955.6,137.3 956.6,134.2 957.5,131.1 958.4,127.8 959.3,124.5 960.3,121.1 961.2,117.8 962.1,114.4 963.0,111.0 964.0,107.7 964.9,104.4 965.8,101.1 966.7,98.0 967.6,94.9 968.6,92.0 969.5,89.3 970.4,86.7 971.3,84.2 972.3,82.0 973.2,80.0 974.1,78.3 975.0,76.8 976.0,75.5 976.9,74.5 977.8,73.8 978.7,73.4 979.7,73.3 980.6,73.4 981.5,73.8 982.4,74.5 983.3,75.5 984.3,76.8 985.2,78.3 986.1,80.0 987.0,82.0 988.0,84.2 988.9,86.7 989.8,89.3 990.7,92.0 991.7,94.9 992.6,98.0 993.5,101.1 994.4,104.4 995.3,107.7 996.3,111.0 997.2,114.4 998.1,117.8 999.0,121.1 1000.0,124.5 1000.9,127.8 1001.8,131.1 1002.7,134.2 1003.7,137.3 1004.6,140.4 1005.5,143.3 1006.4,146.1 1007.4,148.8 1008.3,151.3 1009.2,153.8 1010.1,156.1 1011.0,158.3 1012.0,160.4 1012.9,162.3 1013.8,164.1 1014.7,165.8 1015.7,167.4 1016.6,168.9 1017.5,170.2 1018.4,171.4 1019.4,172.6 1020.3,173.6 1021.2,174.6 1022.1,175.4 1023.1,176.2 1024.0,176.9 1024.9,177.5 1025.8,178.1 1026.7,178.6 1027.7,179.1 1028.6,179.5 1029.5,179.8 1030.4,180.1 1031.4,180.4 1032.3,180.7 1033.2,180.9 1034.1,181.1 1035.1,181.2 1036.0,181.4 1036.9,181.5 1037.8,181.6 1038.8,181.7 1039.7,181.8 1040.6,181.8 1041.5,181.9 1042.4,181.9 1043.4,182.0 1044.3,182.0 1045.2,182.1 1046.1,182.1 1047.1,182.1 1048.0,182.1 1048.9,182.1 1049.8,182.1 1050.8,182.2 1051.7,182.2 1052.6,182.2 1053.5,182.2 1054.5,182.2 1055.4,182.2 1056.3,182.2 1057.2,182.2 1058.1,182.2 1059.1,182.2 1060.0,182.2 1060.9,182.2 1061.8,182.2 1062.8,182.2 1063.7,182.2 1064.6,182.2 1065.5,182.2 1066.5,182.2 1067.4,182.2 1068.3,182.2 1069.2,182.2 1070.2,182.2 1071.1,182.2 1072.0,182.2"/>
</g>
<rect x="702.6" y="40.1" width="369.4" height="284.2" fill="none" stroke="#3c3c3c" stroke-width="1.3"/>
<path d="M795.0 324.3v-3 M887.3 324.3v-6 M979.7 324.3v-3 M702.6 75.6h3 M702.6 111.2h6 M702.6 146.7h3 M702.6 182.2h6 M702.6 217.7h3 M702.6 253.2h6 M702.6 288.8h3" stroke="#3c3c3c" stroke-width="1.3" fill="none"/>
<text x="703.3" y="357.0" font-size="33" text-anchor="middle" font-weight="normal" >0</text>
<text x="887.8" y="359.5" font-size="33" text-anchor="middle" font-weight="normal" >50</text>
<text x="1071.5" y="359.5" font-size="33" text-anchor="middle" font-weight="normal" >100</text>
<text x="893.0" y="390.5" font-size="30" text-anchor="middle" font-weight="normal" >T(μs)</text>
<text x="663.3" y="124.6" font-size="32" text-anchor="middle" font-weight="normal" >150</text>
<text x="666.0" y="195.5" font-size="32" text-anchor="middle" font-weight="normal" >0</text>
<text x="663.7" y="267.0" font-size="32" text-anchor="middle" font-weight="normal" >-150</text>
<text transform="translate(621,172.6) rotate(-90)" font-size="29" text-anchor="middle">Frequency (KHz)</text>
<text x="713.0" y="68.8" font-size="23" text-anchor="start" font-weight="bold" >NHQC</text>
<text x="587.2" y="30.2" font-size="39.5" text-anchor="start" font-weight="normal" >(c)</text>
<rect x="974.1" y="231.2" width="77.30000000000007" height="79.60000000000002" fill="#fff" stroke="#c4c4c4" stroke-width="1"/>
<line x1="978" y1="243.3" x2="1013.6" y2="243.3" stroke="#808080" stroke-width="5.2" stroke-linecap="round"/>
<text x="1023" y="248.9" font-size="17">Ω<tspan font-size="11.6" dy="5.1">1</tspan></text>
<line x1="978" y1="269.1" x2="1013.6" y2="269.1" stroke="#5593e8" stroke-width="5.2" stroke-linecap="round"/>
<text x="1023" y="274.7" font-size="17">-Ω<tspan font-size="11.6" dy="5.1">1</tspan></text>
<line x1="978" y1="294.7" x2="1013.6" y2="294.7" stroke="#69bf93" stroke-width="5.2" stroke-linecap="round"/>
<text x="1023" y="300.3" font-size="17">Ω<tspan font-size="11.6" dy="5.1">2</tspan></text>
<clipPath id="cle"><rect x="1285.5" y="33.5" width="370.70000000000005" height="282.9"/></clipPath>
<g clip-path="url(#cle)" fill="none" stroke-linecap="round" stroke-linejoin="round" stroke-width="5.4" >
<polyline stroke="#4a4a4a" stroke-opacity="0.7" points="1285.5,174.9 1286.4,175.0 1287.4,175.1 1288.3,175.2 1289.2,175.2 1290.1,175.3 1291.1,175.4 1292.0,175.5 1292.9,175.6 1293.8,175.7 1294.8,175.8 1295.7,175.9 1296.6,176.0 1297.5,176.1 1298.5,176.2 1299.4,176.3 1300.3,176.4 1301.3,176.6 1302.2,176.7 1303.1,176.8 1304.0,177.0 1305.0,177.1 1305.9,177.3 1306.8,177.4 1307.7,177.6 1308.7,177.8 1309.6,178.0 1310.5,178.2 1311.4,178.4 1312.4,178.6 1313.3,178.8 1314.2,179.0 1315.2,179.3 1316.1,179.5 1317.0,179.8 1317.9,180.0 1318.9,180.3 1319.8,180.6 1320.7,180.9 1321.6,181.2 1322.6,181.5 1323.5,181.9 1324.4,182.2 1325.4,182.6 1326.3,183.0 1327.2,183.4 1328.1,183.8 1329.1,184.2 1330.0,184.7 1330.9,185.1 1331.8,185.6 1332.8,186.1 1333.7,186.6 1334.6,187.1 1335.5,187.7 1336.5,188.3 1337.4,188.9 1338.3,189.5 1339.3,190.1 1340.2,190.8 1341.1,191.5 1342.0,192.2 1343.0,192.9 1343.9,193.7 1344.8,194.4 1345.7,195.2 1346.7,196.0 1347.6,196.9 1348.5,197.7 1349.4,198.6 1350.4,199.5 1351.3,200.4 1352.2,201.4 1353.2,202.3 1354.1,203.3 1355.0,204.3 1355.9,205.3 1356.9,206.3 1357.8,207.3 1358.7,208.3 1359.6,209.3 1360.6,210.3 1361.5,211.3 1362.4,212.3 1363.3,213.2 1364.3,214.2 1365.2,215.1 1366.1,216.0 1367.1,216.8 1368.0,217.6 1368.9,218.4 1369.8,219.1 1370.8,219.7 1371.7,220.3 1372.6,220.8 1373.5,221.2 1374.5,221.6 1375.4,221.9 1376.3,222.1 1377.2,222.2 1378.2,222.2 1379.1,222.2 1380.0,222.1 1381.0,221.9 1381.9,221.6 1382.8,221.2 1383.7,220.8 1384.7,220.3 1385.6,219.7 1386.5,219.1 1387.4,218.4 1388.4,217.6 1389.3,216.8 1390.2,216.0 1391.1,215.1 1392.1,214.2 1393.0,213.2 1393.9,212.3 1394.9,211.3 1395.8,210.3 1396.7,209.3 1397.6,208.3 1398.6,207.3 1399.5,206.3 1400.4,205.3 1401.3,204.3 1402.3,203.3 1403.2,202.3 1404.1,201.4 1405.1,200.4 1406.0,199.5 1406.9,198.6 1407.8,197.7 1408.8,196.9 1409.7,196.0 1410.6,195.2 1411.5,194.4 1412.5,193.7 1413.4,192.9 1414.3,192.2 1415.2,191.5 1416.2,190.8 1417.1,190.1 1418.0,189.5 1419.0,188.9 1419.9,188.3 1420.8,187.7 1421.7,187.1 1422.7,186.6 1423.6,186.1 1424.5,185.6 1425.4,185.1 1426.4,184.7 1427.3,184.2 1428.2,183.8 1429.1,183.4 1430.1,183.0 1431.0,182.6 1431.9,182.2 1432.9,181.9 1433.8,181.5 1434.7,181.2 1435.6,180.9 1436.6,180.6 1437.5,180.3 1438.4,180.0 1439.3,179.8 1440.3,179.5 1441.2,179.3 1442.1,179.0 1443.0,178.8 1444.0,178.6 1444.9,178.4 1445.8,178.2 1446.8,178.0 1447.7,177.8 1448.6,177.6 1449.5,177.4 1450.5,177.3 1451.4,177.1 1452.3,177.0 1453.2,176.8 1454.2,176.7 1455.1,176.6 1456.0,176.4 1456.9,176.3 1457.9,176.2 1458.8,176.1 1459.7,176.0 1460.7,175.9 1461.6,175.8 1462.5,175.7 1463.4,175.6 1464.4,175.5 1465.3,175.4 1466.2,175.3 1467.1,175.2 1468.1,175.2 1469.0,175.1 1469.9,175.0 1470.8,174.9 1471.8,174.9 1472.7,174.8 1473.6,174.7 1474.6,174.7 1475.5,174.6 1476.4,174.5 1477.3,174.4 1478.3,174.3 1479.2,174.2 1480.1,174.1 1481.0,174.0 1482.0,173.9 1482.9,173.8 1483.8,173.7 1484.8,173.6 1485.7,173.5 1486.6,173.3 1487.5,173.2 1488.5,173.1 1489.4,172.9 1490.3,172.8 1491.2,172.6 1492.2,172.5 1493.1,172.3 1494.0,172.1 1494.9,171.9 1495.9,171.7 1496.8,171.5 1497.7,171.3 1498.7,171.1 1499.6,170.9 1500.5,170.6 1501.4,170.4 1502.4,170.1 1503.3,169.9 1504.2,169.6 1505.1,169.3 1506.1,169.0 1507.0,168.7 1507.9,168.4 1508.8,168.0 1509.8,167.7 1510.7,167.3 1511.6,166.9 1512.6,166.5 1513.5,166.1 1514.4,165.7 1515.3,165.2 1516.3,164.8 1517.2,164.3 1518.1,163.8 1519.0,163.3 1520.0,162.8 1520.9,162.2 1521.8,161.6 1522.7,161.0 1523.7,160.4 1524.6,159.8 1525.5,159.1 1526.5,158.4 1527.4,157.7 1528.3,157.0 1529.2,156.2 1530.2,155.5 1531.1,154.7 1532.0,153.9 1532.9,153.0 1533.9,152.2 1534.8,151.3 1535.7,150.4 1536.6,149.5 1537.6,148.5 1538.5,147.6 1539.4,146.6 1540.4,145.6 1541.3,144.6 1542.2,143.6 1543.1,142.6 1544.1,141.6 1545.0,140.6 1545.9,139.6 1546.8,138.6 1547.8,137.6 1548.7,136.7 1549.6,135.7 1550.6,134.8 1551.5,133.9 1552.4,133.1 1553.3,132.3 1554.3,131.5 1555.2,130.8 1556.1,130.2 1557.0,129.6 1558.0,129.1 1558.9,128.7 1559.8,128.3 1560.7,128.0 1561.7,127.8 1562.6,127.7 1563.5,127.7 1564.5,127.7 1565.4,127.8 1566.3,128.0 1567.2,128.3 1568.2,128.7 1569.1,129.1 1570.0,129.6 1570.9,130.2 1571.9,130.8 1572.8,131.5 1573.7,132.3 1574.6,133.1 1575.6,133.9 1576.5,134.8 1577.4,135.7 1578.4,136.7 1579.3,137.6 1580.2,138.6 1581.1,139.6 1582.1,140.6 1583.0,141.6 1583.9,142.6 1584.8,143.6 1585.8,144.6 1586.7,145.6 1587.6,146.6 1588.5,147.6 1589.5,148.5 1590.4,149.5 1591.3,150.4 1592.3,151.3 1593.2,152.2 1594.1,153.0 1595.0,153.9 1596.0,154.7 1596.9,155.5 1597.8,156.2 1598.7,157.0 1599.7,157.7 1600.6,158.4 1601.5,159.1 1602.4,159.8 1603.4,160.4 1604.3,161.0 1605.2,161.6 1606.2,162.2 1607.1,162.8 1608.0,163.3 1608.9,163.8 1609.9,164.3 1610.8,164.8 1611.7,165.2 1612.6,165.7 1613.6,166.1 1614.5,166.5 1615.4,166.9 1616.3,167.3 1617.3,167.7 1618.2,168.0 1619.1,168.4 1620.1,168.7 1621.0,169.0 1621.9,169.3 1622.8,169.6 1623.8,169.9 1624.7,170.1 1625.6,170.4 1626.5,170.6 1627.5,170.9 1628.4,171.1 1629.3,171.3 1630.3,171.5 1631.2,171.7 1632.1,171.9 1633.0,172.1 1634.0,172.3 1634.9,172.5 1635.8,172.6 1636.7,172.8 1637.7,172.9 1638.6,173.1 1639.5,173.2 1640.4,173.3 1641.4,173.5 1642.3,173.6 1643.2,173.7 1644.2,173.8 1645.1,173.9 1646.0,174.0 1646.9,174.1 1647.9,174.2 1648.8,174.3 1649.7,174.4 1650.6,174.5 1651.6,174.6 1652.5,174.7 1653.4,174.7 1654.3,174.8 1655.3,174.9 1656.2,174.9"/>
<polyline stroke="#0c65de" stroke-opacity="0.7" points="1285.5,174.9 1286.4,174.9 1287.4,174.8 1288.3,174.7 1289.2,174.7 1290.1,174.6 1291.1,174.5 1292.0,174.4 1292.9,174.3 1293.8,174.2 1294.8,174.1 1295.7,174.0 1296.6,173.9 1297.5,173.8 1298.5,173.7 1299.4,173.6 1300.3,173.5 1301.3,173.3 1302.2,173.2 1303.1,173.1 1304.0,172.9 1305.0,172.8 1305.9,172.6 1306.8,172.5 1307.7,172.3 1308.7,172.1 1309.6,171.9 1310.5,171.7 1311.4,171.5 1312.4,171.3 1313.3,171.1 1314.2,170.9 1315.2,170.6 1316.1,170.4 1317.0,170.1 1317.9,169.9 1318.9,169.6 1319.8,169.3 1320.7,169.0 1321.6,168.7 1322.6,168.4 1323.5,168.0 1324.4,167.7 1325.4,167.3 1326.3,166.9 1327.2,166.5 1328.1,166.1 1329.1,165.7 1330.0,165.2 1330.9,164.8 1331.8,164.3 1332.8,163.8 1333.7,163.3 1334.6,162.8 1335.5,162.2 1336.5,161.6 1337.4,161.0 1338.3,160.4 1339.3,159.8 1340.2,159.1 1341.1,158.4 1342.0,157.7 1343.0,157.0 1343.9,156.2 1344.8,155.5 1345.7,154.7 1346.7,153.9 1347.6,153.0 1348.5,152.2 1349.4,151.3 1350.4,150.4 1351.3,149.5 1352.2,148.5 1353.2,147.6 1354.1,146.6 1355.0,145.6 1355.9,144.6 1356.9,143.6 1357.8,142.6 1358.7,141.6 1359.6,140.6 1360.6,139.6 1361.5,138.6 1362.4,137.6 1363.3,136.7 1364.3,135.7 1365.2,134.8 1366.1,133.9 1367.1,133.1 1368.0,132.3 1368.9,131.5 1369.8,130.8 1370.8,130.2 1371.7,129.6 1372.6,129.1 1373.5,128.7 1374.5,128.3 1375.4,128.0 1376.3,127.8 1377.2,127.7 1378.2,127.7 1379.1,127.7 1380.0,127.8 1381.0,128.0 1381.9,128.3 1382.8,128.7 1383.7,129.1 1384.7,129.6 1385.6,130.2 1386.5,130.8 1387.4,131.5 1388.4,132.3 1389.3,133.1 1390.2,133.9 1391.1,134.8 1392.1,135.7 1393.0,136.7 1393.9,137.6 1394.9,138.6 1395.8,139.6 1396.7,140.6 1397.6,141.6 1398.6,142.6 1399.5,143.6 1400.4,144.6 1401.3,145.6 1402.3,146.6 1403.2,147.6 1404.1,148.5 1405.1,149.5 1406.0,150.4 1406.9,151.3 1407.8,152.2 1408.8,153.0 1409.7,153.9 1410.6,154.7 1411.5,155.5 1412.5,156.2 1413.4,157.0 1414.3,157.7 1415.2,158.4 1416.2,159.1 1417.1,159.8 1418.0,160.4 1419.0,161.0 1419.9,161.6 1420.8,162.2 1421.7,162.8 1422.7,163.3 1423.6,163.8 1424.5,164.3 1425.4,164.8 1426.4,165.2 1427.3,165.7 1428.2,166.1 1429.1,166.5 1430.1,166.9 1431.0,167.3 1431.9,167.7 1432.9,168.0 1433.8,168.4 1434.7,168.7 1435.6,169.0 1436.6,169.3 1437.5,169.6 1438.4,169.9 1439.3,170.1 1440.3,170.4 1441.2,170.6 1442.1,170.9 1443.0,171.1 1444.0,171.3 1444.9,171.5 1445.8,171.7 1446.8,171.9 1447.7,172.1 1448.6,172.3 1449.5,172.5 1450.5,172.6 1451.4,172.8 1452.3,172.9 1453.2,173.1 1454.2,173.2 1455.1,173.3 1456.0,173.5 1456.9,173.6 1457.9,173.7 1458.8,173.8 1459.7,173.9 1460.7,174.0 1461.6,174.1 1462.5,174.2 1463.4,174.3 1464.4,174.4 1465.3,174.5 1466.2,174.6 1467.1,174.7 1468.1,174.7 1469.0,174.8 1469.9,174.9 1470.8,174.9 1471.8,175.0 1472.7,175.1 1473.6,175.2 1474.6,175.2 1475.5,175.3 1476.4,175.4 1477.3,175.5 1478.3,175.6 1479.2,175.7 1480.1,175.8 1481.0,175.9 1482.0,176.0 1482.9,176.1 1483.8,176.2 1484.8,176.3 1485.7,176.4 1486.6,176.6 1487.5,176.7 1488.5,176.8 1489.4,177.0 1490.3,177.1 1491.2,177.3 1492.2,177.4 1493.1,177.6 1494.0,177.8 1494.9,178.0 1495.9,178.2 1496.8,178.4 1497.7,178.6 1498.7,178.8 1499.6,179.0 1500.5,179.3 1501.4,179.5 1502.4,179.8 1503.3,180.0 1504.2,180.3 1505.1,180.6 1506.1,180.9 1507.0,181.2 1507.9,181.5 1508.8,181.9 1509.8,182.2 1510.7,182.6 1511.6,183.0 1512.6,183.4 1513.5,183.8 1514.4,184.2 1515.3,184.7 1516.3,185.1 1517.2,185.6 1518.1,186.1 1519.0,186.6 1520.0,187.1 1520.9,187.7 1521.8,188.3 1522.7,188.9 1523.7,189.5 1524.6,190.1 1525.5,190.8 1526.5,191.5 1527.4,192.2 1528.3,192.9 1529.2,193.7 1530.2,194.4 1531.1,195.2 1532.0,196.0 1532.9,196.9 1533.9,197.7 1534.8,198.6 1535.7,199.5 1536.6,200.4 1537.6,201.4 1538.5,202.3 1539.4,203.3 1540.4,204.3 1541.3,205.3 1542.2,206.3 1543.1,207.3 1544.1,208.3 1545.0,209.3 1545.9,210.3 1546.8,211.3 1547.8,212.3 1548.7,213.2 1549.6,214.2 1550.6,215.1 1551.5,216.0 1552.4,216.8 1553.3,217.6 1554.3,218.4 1555.2,219.1 1556.1,219.7 1557.0,220.3 1558.0,220.8 1558.9,221.2 1559.8,221.6 1560.7,221.9 1561.7,222.1 1562.6,222.2 1563.5,222.2 1564.5,222.2 1565.4,222.1 1566.3,221.9 1567.2,221.6 1568.2,221.2 1569.1,220.8 1570.0,220.3 1570.9,219.7 1571.9,219.1 1572.8,218.4 1573.7,217.6 1574.6,216.8 1575.6,216.0 1576.5,215.1 1577.4,214.2 1578.4,213.2 1579.3,212.3 1580.2,211.3 1581.1,210.3 1582.1,209.3 1583.0,208.3 1583.9,207.3 1584.8,206.3 1585.8,205.3 1586.7,204.3 1587.6,203.3 1588.5,202.3 1589.5,201.4 1590.4,200.4 1591.3,199.5 1592.3,198.6 1593.2,197.7 1594.1,196.9 1595.0,196.0 1596.0,195.2 1596.9,194.4 1597.8,193.7 1598.7,192.9 1599.7,192.2 1600.6,191.5 1601.5,190.8 1602.4,190.1 1603.4,189.5 1604.3,188.9 1605.2,188.3 1606.2,187.7 1607.1,187.1 1608.0,186.6 1608.9,186.1 1609.9,185.6 1610.8,185.1 1611.7,184.7 1612.6,184.2 1613.6,183.8 1614.5,183.4 1615.4,183.0 1616.3,182.6 1617.3,182.2 1618.2,181.9 1619.1,181.5 1620.1,181.2 1621.0,180.9 1621.9,180.6 1622.8,180.3 1623.8,180.0 1624.7,179.8 1625.6,179.5 1626.5,179.3 1627.5,179.0 1628.4,178.8 1629.3,178.6 1630.3,178.4 1631.2,178.2 1632.1,178.0 1633.0,177.8 1634.0,177.6 1634.9,177.4 1635.8,177.3 1636.7,177.1 1637.7,177.0 1638.6,176.8 1639.5,176.7 1640.4,176.6 1641.4,176.4 1642.3,176.3 1643.2,176.2 1644.2,176.1 1645.1,176.0 1646.0,175.9 1646.9,175.8 1647.9,175.7 1648.8,175.6 1649.7,175.5 1650.6,175.4 1651.6,175.3 1652.5,175.2 1653.4,175.2 1654.3,175.1 1655.3,175.0 1656.2,174.9"/>
<polyline stroke="#29a465" stroke-opacity="0.7" points="1285.5,174.9 1286.4,175.1 1287.4,175.2 1288.3,175.4 1289.2,175.6 1290.1,175.7 1291.1,175.9 1292.0,176.1 1292.9,176.3 1293.8,176.5 1294.8,176.7 1295.7,176.9 1296.6,177.1 1297.5,177.4 1298.5,177.6 1299.4,177.9 1300.3,178.1 1301.3,178.4 1302.2,178.7 1303.1,179.0 1304.0,179.4 1305.0,179.7 1305.9,180.0 1306.8,180.4 1307.7,180.8 1308.7,181.2 1309.6,181.6 1310.5,182.0 1311.4,182.5 1312.4,182.9 1313.3,183.4 1314.2,184.0 1315.2,184.5 1316.1,185.0 1317.0,185.6 1317.9,186.2 1318.9,186.9 1319.8,187.5 1320.7,188.2 1321.6,188.9 1322.6,189.7 1323.5,190.5 1324.4,191.3 1325.4,192.1 1326.3,193.0 1327.2,193.9 1328.1,194.9 1329.1,195.9 1330.0,196.9 1330.9,198.0 1331.8,199.1 1332.8,200.3 1333.7,201.5 1334.6,202.8 1335.5,204.1 1336.5,205.4 1337.4,206.9 1338.3,208.3 1339.3,209.9 1340.2,211.4 1341.1,213.1 1342.0,214.8 1343.0,216.5 1343.9,218.4 1344.8,220.2 1345.7,222.2 1346.7,224.2 1347.6,226.2 1348.5,228.3 1349.4,230.5 1350.4,232.7 1351.3,235.0 1352.2,237.3 1353.2,239.7 1354.1,242.1 1355.0,244.6 1355.9,247.1 1356.9,249.6 1357.8,252.2 1358.7,254.7 1359.6,257.3 1360.6,259.9 1361.5,262.4 1362.4,264.9 1363.3,267.4 1364.3,269.8 1365.2,272.2 1366.1,274.5 1367.1,276.7 1368.0,278.7 1368.9,280.7 1369.8,282.5 1370.8,284.2 1371.7,285.7 1372.6,287.1 1373.5,288.2 1374.5,289.2 1375.4,290.0 1376.3,290.5 1377.2,290.8 1378.2,290.9 1379.1,290.8 1380.0,290.5 1381.0,290.0 1381.9,289.2 1382.8,288.2 1383.7,287.1 1384.7,285.7 1385.6,284.2 1386.5,282.5 1387.4,280.7 1388.4,278.7 1389.3,276.7 1390.2,274.5 1391.1,272.2 1392.1,269.8 1393.0,267.4 1393.9,264.9 1394.9,262.4 1395.8,259.9 1396.7,257.3 1397.6,254.7 1398.6,252.2 1399.5,249.6 1400.4,247.1 1401.3,244.6 1402.3,242.1 1403.2,239.7 1404.1,237.3 1405.1,235.0 1406.0,232.7 1406.9,230.5 1407.8,228.3 1408.8,226.2 1409.7,224.2 1410.6,222.2 1411.5,220.2 1412.5,218.4 1413.4,216.5 1414.3,214.8 1415.2,213.1 1416.2,211.4 1417.1,209.9 1418.0,208.3 1419.0,206.9 1419.9,205.4 1420.8,204.1 1421.7,202.8 1422.7,201.5 1423.6,200.3 1424.5,199.1 1425.4,198.0 1426.4,196.9 1427.3,195.9 1428.2,194.9 1429.1,193.9 1430.1,193.0 1431.0,192.1 1431.9,191.3 1432.9,190.5 1433.8,189.7 1434.7,188.9 1435.6,188.2 1436.6,187.5 1437.5,186.9 1438.4,186.2 1439.3,185.6 1440.3,185.0 1441.2,184.5 1442.1,184.0 1443.0,183.4 1444.0,182.9 1444.9,182.5 1445.8,182.0 1446.8,181.6 1447.7,181.2 1448.6,180.8 1449.5,180.4 1450.5,180.0 1451.4,179.7 1452.3,179.4 1453.2,179.0 1454.2,178.7 1455.1,178.4 1456.0,178.1 1456.9,177.9 1457.9,177.6 1458.8,177.4 1459.7,177.1 1460.7,176.9 1461.6,176.7 1462.5,176.5 1463.4,176.3 1464.4,176.1 1465.3,175.9 1466.2,175.7 1467.1,175.6 1468.1,175.4 1469.0,175.2 1469.9,175.1 1470.8,174.9 1471.8,174.8 1472.7,174.7 1473.6,174.5 1474.6,174.3 1475.5,174.2 1476.4,174.0 1477.3,173.8 1478.3,173.6 1479.2,173.4 1480.1,173.2 1481.0,173.0 1482.0,172.8 1482.9,172.5 1483.8,172.3 1484.8,172.0 1485.7,171.8 1486.6,171.5 1487.5,171.2 1488.5,170.9 1489.4,170.5 1490.3,170.2 1491.2,169.9 1492.2,169.5 1493.1,169.1 1494.0,168.7 1494.9,168.3 1495.9,167.9 1496.8,167.4 1497.7,167.0 1498.7,166.5 1499.6,165.9 1500.5,165.4 1501.4,164.9 1502.4,164.3 1503.3,163.7 1504.2,163.0 1505.1,162.4 1506.1,161.7 1507.0,161.0 1507.9,160.2 1508.8,159.4 1509.8,158.6 1510.7,157.8 1511.6,156.9 1512.6,156.0 1513.5,155.0 1514.4,154.0 1515.3,153.0 1516.3,151.9 1517.2,150.8 1518.1,149.6 1519.0,148.4 1520.0,147.1 1520.9,145.8 1521.8,144.5 1522.7,143.0 1523.7,141.6 1524.6,140.0 1525.5,138.5 1526.5,136.8 1527.4,135.1 1528.3,133.4 1529.2,131.5 1530.2,129.7 1531.1,127.7 1532.0,125.7 1532.9,123.7 1533.9,121.6 1534.8,119.4 1535.7,117.2 1536.6,114.9 1537.6,112.6 1538.5,110.2 1539.4,107.8 1540.4,105.3 1541.3,102.8 1542.2,100.3 1543.1,97.7 1544.1,95.2 1545.0,92.6 1545.9,90.0 1546.8,87.5 1547.8,85.0 1548.7,82.5 1549.6,80.1 1550.6,77.7 1551.5,75.4 1552.4,73.2 1553.3,71.2 1554.3,69.2 1555.2,67.4 1556.1,65.7 1557.0,64.2 1558.0,62.8 1558.9,61.7 1559.8,60.7 1560.7,59.9 1561.7,59.4 1562.6,59.1 1563.5,59.0 1564.5,59.1 1565.4,59.4 1566.3,59.9 1567.2,60.7 1568.2,61.7 1569.1,62.8 1570.0,64.2 1570.9,65.7 1571.9,67.4 1572.8,69.2 1573.7,71.2 1574.6,73.2 1575.6,75.4 1576.5,77.7 1577.4,80.1 1578.4,82.5 1579.3,85.0 1580.2,87.5 1581.1,90.0 1582.1,92.6 1583.0,95.2 1583.9,97.7 1584.8,100.3 1585.8,102.8 1586.7,105.3 1587.6,107.8 1588.5,110.2 1589.5,112.6 1590.4,114.9 1591.3,117.2 1592.3,119.4 1593.2,121.6 1594.1,123.7 1595.0,125.7 1596.0,127.7 1596.9,129.7 1597.8,131.5 1598.7,133.4 1599.7,135.1 1600.6,136.8 1601.5,138.5 1602.4,140.0 1603.4,141.6 1604.3,143.0 1605.2,144.5 1606.2,145.8 1607.1,147.1 1608.0,148.4 1608.9,149.6 1609.9,150.8 1610.8,151.9 1611.7,153.0 1612.6,154.0 1613.6,155.0 1614.5,156.0 1615.4,156.9 1616.3,157.8 1617.3,158.6 1618.2,159.4 1619.1,160.2 1620.1,161.0 1621.0,161.7 1621.9,162.4 1622.8,163.0 1623.8,163.7 1624.7,164.3 1625.6,164.9 1626.5,165.4 1627.5,165.9 1628.4,166.5 1629.3,167.0 1630.3,167.4 1631.2,167.9 1632.1,168.3 1633.0,168.7 1634.0,169.1 1634.9,169.5 1635.8,169.9 1636.7,170.2 1637.7,170.5 1638.6,170.9 1639.5,171.2 1640.4,171.5 1641.4,171.8 1642.3,172.0 1643.2,172.3 1644.2,172.5 1645.1,172.8 1646.0,173.0 1646.9,173.2 1647.9,173.4 1648.8,173.6 1649.7,173.8 1650.6,174.0 1651.6,174.2 1652.5,174.3 1653.4,174.5 1654.3,174.7 1655.3,174.8 1656.2,174.9"/>
<polyline stroke="#d09100" stroke-opacity="0.7" points="1285.5,169.0 1286.4,168.5 1287.4,168.0 1288.3,167.5 1289.2,166.9 1290.1,166.4 1291.1,165.7 1292.0,165.0 1292.9,164.3 1293.8,163.6 1294.8,162.8 1295.7,162.0 1296.6,161.1 1297.5,160.2 1298.5,159.2 1299.4,158.2 1300.3,157.1 1301.3,156.0 1302.2,154.9 1303.1,153.7 1304.0,152.4 1305.0,151.1 1305.9,149.8 1306.8,148.4 1307.7,146.9 1308.7,145.4 1309.6,143.9 1310.5,142.3 1311.4,140.6 1312.4,138.9 1313.3,137.2 1314.2,135.5 1315.2,133.6 1316.1,131.8 1317.0,129.9 1317.9,128.0 1318.9,126.1 1319.8,124.2 1320.7,122.2 1321.6,120.2 1322.6,118.2 1323.5,116.2 1324.4,114.2 1325.4,112.2 1326.3,110.2 1327.2,108.2 1328.1,106.3 1329.1,104.4 1330.0,102.5 1330.9,100.6 1331.8,98.8 1332.8,97.1 1333.7,95.4 1334.6,93.8 1335.5,92.3 1336.5,90.8 1337.4,89.5 1338.3,88.2 1339.3,87.1 1340.2,86.0 1341.1,85.1 1342.0,84.3 1343.0,83.6 1343.9,83.1 1344.8,82.7 1345.7,82.5 1346.7,82.4 1347.6,82.5 1348.5,82.7 1349.4,83.1 1350.4,83.7 1351.3,84.5 1352.2,85.4 1353.2,86.5 1354.1,87.8 1355.0,89.3 1355.9,91.0 1356.9,92.8 1357.8,94.9 1358.7,97.1 1359.6,99.5 1360.6,102.0 1361.5,104.7 1362.4,107.6 1363.3,110.7 1364.3,113.9 1365.2,117.2 1366.1,120.7 1367.1,124.3 1368.0,128.1 1368.9,132.0 1369.8,135.9 1370.8,140.0 1371.7,144.2 1372.6,148.4 1373.5,152.8 1374.5,157.1 1375.4,161.5 1376.3,166.0 1377.2,170.5 1378.2,174.9 1379.1,179.4 1380.0,183.9 1381.0,188.4 1381.9,192.8 1382.8,197.1 1383.7,201.5 1384.7,205.7 1385.6,209.9 1386.5,213.9 1387.4,217.9 1388.4,221.8 1389.3,225.6 1390.2,229.2 1391.1,232.7 1392.1,236.0 1393.0,239.2 1393.9,242.3 1394.9,245.2 1395.8,247.9 1396.7,250.4 1397.6,252.8 1398.6,255.0 1399.5,257.1 1400.4,258.9 1401.3,260.6 1402.3,262.1 1403.2,263.4 1404.1,264.5 1405.1,265.4 1406.0,266.2 1406.9,266.8 1407.8,267.2 1408.8,267.4 1409.7,267.5 1410.6,267.4 1411.5,267.2 1412.5,266.8 1413.4,266.3 1414.3,265.6 1415.2,264.8 1416.2,263.9 1417.1,262.8 1418.0,261.7 1419.0,260.4 1419.9,259.0 1420.8,257.6 1421.7,256.1 1422.7,254.4 1423.6,252.8 1424.5,251.0 1425.4,249.2 1426.4,247.4 1427.3,245.5 1428.2,243.5 1429.1,241.6 1430.1,239.6 1431.0,237.6 1431.9,235.6 1432.9,233.6 1433.8,231.6 1434.7,229.6 1435.6,227.6 1436.6,225.6 1437.5,223.6 1438.4,221.6 1439.3,219.7 1440.3,217.8 1441.2,215.9 1442.1,214.1 1443.0,212.3 1444.0,210.5 1444.9,208.8 1445.8,207.1 1446.8,205.5 1447.7,203.8 1448.6,202.3 1449.5,200.8 1450.5,199.3 1451.4,197.8 1452.3,196.4 1453.2,195.1 1454.2,193.7 1455.1,192.5 1456.0,191.2 1456.9,190.0 1457.9,188.8 1458.8,187.7 1459.7,186.6 1460.7,185.5 1461.6,184.5 1462.5,183.4 1463.4,182.4 1464.4,181.5 1465.3,180.5 1466.2,179.5 1467.1,178.6 1468.1,177.7 1469.0,176.8 1469.9,175.9 1470.8,174.9 1471.8,174.0 1472.7,173.1 1473.6,172.2 1474.6,171.3 1475.5,170.4 1476.4,169.4 1477.3,168.4 1478.3,167.5 1479.2,166.5 1480.1,165.4 1481.0,164.4 1482.0,163.3 1482.9,162.2 1483.8,161.1 1484.8,159.9 1485.7,158.7 1486.6,157.4 1487.5,156.2 1488.5,154.8 1489.4,153.5 1490.3,152.1 1491.2,150.6 1492.2,149.1 1493.1,147.6 1494.0,146.1 1494.9,144.4 1495.9,142.8 1496.8,141.1 1497.7,139.4 1498.7,137.6 1499.6,135.8 1500.5,134.0 1501.4,132.1 1502.4,130.2 1503.3,128.3 1504.2,126.3 1505.1,124.3 1506.1,122.3 1507.0,120.3 1507.9,118.3 1508.8,116.3 1509.8,114.3 1510.7,112.3 1511.6,110.3 1512.6,108.3 1513.5,106.4 1514.4,104.4 1515.3,102.5 1516.3,100.7 1517.2,98.9 1518.1,97.1 1519.0,95.5 1520.0,93.8 1520.9,92.3 1521.8,90.9 1522.7,89.5 1523.7,88.2 1524.6,87.1 1525.5,86.0 1526.5,85.1 1527.4,84.3 1528.3,83.6 1529.2,83.1 1530.2,82.7 1531.1,82.5 1532.0,82.4 1532.9,82.5 1533.9,82.7 1534.8,83.1 1535.7,83.7 1536.6,84.5 1537.6,85.4 1538.5,86.5 1539.4,87.8 1540.4,89.3 1541.3,91.0 1542.2,92.8 1543.1,94.9 1544.1,97.1 1545.0,99.5 1545.9,102.0 1546.8,104.7 1547.8,107.6 1548.7,110.7 1549.6,113.9 1550.6,117.2 1551.5,120.7 1552.4,124.3 1553.3,128.1 1554.3,132.0 1555.2,136.0 1556.1,140.0 1557.0,144.2 1558.0,148.4 1558.9,152.8 1559.8,157.1 1560.7,161.5 1561.7,166.0 1562.6,170.5 1563.5,175.0 1564.5,179.4 1565.4,183.9 1566.3,188.4 1567.2,192.8 1568.2,197.1 1569.1,201.5 1570.0,205.7 1570.9,209.9 1571.9,214.0 1572.8,217.9 1573.7,221.8 1574.6,225.6 1575.6,229.2 1576.5,232.7 1577.4,236.0 1578.4,239.2 1579.3,242.3 1580.2,245.2 1581.1,247.9 1582.1,250.4 1583.0,252.8 1583.9,255.0 1584.8,257.1 1585.8,258.9 1586.7,260.6 1587.6,262.1 1588.5,263.4 1589.5,264.5 1590.4,265.4 1591.3,266.2 1592.3,266.8 1593.2,267.2 1594.1,267.4 1595.0,267.5 1596.0,267.4 1596.9,267.2 1597.8,266.8 1598.7,266.3 1599.7,265.6 1600.6,264.8 1601.5,263.9 1602.4,262.8 1603.4,261.7 1604.3,260.4 1605.2,259.1 1606.2,257.6 1607.1,256.1 1608.0,254.5 1608.9,252.8 1609.9,251.1 1610.8,249.3 1611.7,247.4 1612.6,245.5 1613.6,243.6 1614.5,241.7 1615.4,239.7 1616.3,237.7 1617.3,235.7 1618.2,233.7 1619.1,231.7 1620.1,229.7 1621.0,227.7 1621.9,225.7 1622.8,223.8 1623.8,221.9 1624.7,220.0 1625.6,218.1 1626.5,216.3 1627.5,214.4 1628.4,212.7 1629.3,211.0 1630.3,209.3 1631.2,207.6 1632.1,206.0 1633.0,204.5 1634.0,203.0 1634.9,201.5 1635.8,200.1 1636.7,198.8 1637.7,197.5 1638.6,196.2 1639.5,195.0 1640.4,193.9 1641.4,192.8 1642.3,191.7 1643.2,190.7 1644.2,189.7 1645.1,188.8 1646.0,187.9 1646.9,187.1 1647.9,186.3 1648.8,185.6 1649.7,184.9 1650.6,184.2 1651.6,183.5 1652.5,183.0 1653.4,182.4 1654.3,181.9 1655.3,181.4 1656.2,180.9"/>
</g>
<rect x="1285.5" y="33.5" width="370.70000000000005" height="282.9" fill="none" stroke="#3c3c3c" stroke-width="1.3"/>
<path d="M1378.2 316.4v-3 M1378.2 33.5v1.6 M1470.8 316.4v-6 M1470.8 33.5v2 M1563.5 316.4v-3 M1563.5 33.5v1.6 M1285.5 53.7h6 M1285.5 84.0h3 M1285.5 114.3h6 M1285.5 144.6h3 M1285.5 174.9h6 M1285.5 205.3h3 M1285.5 235.6h6 M1285.5 265.9h3 M1285.5 296.2h6" stroke="#3c3c3c" stroke-width="1.3" fill="none"/>
<text x="1284.5" y="350.0" font-size="33" text-anchor="middle" font-weight="normal" >0</text>
<text x="1471.5" y="355.0" font-size="33" text-anchor="middle" font-weight="normal" >50</text>
<text x="1654.0" y="355.0" font-size="33" text-anchor="middle" font-weight="normal" >100</text>
<text x="1472.5" y="387.0" font-size="30" text-anchor="middle" font-weight="normal" >T(μs)</text>
<text x="1248.2" y="129.8" font-size="32.5" text-anchor="middle" font-weight="normal" >150</text>
<text x="1249.2" y="194.0" font-size="32.5" text-anchor="middle" font-weight="normal" >0</text>
<text x="1246.6" y="252.0" font-size="32.5" text-anchor="middle" font-weight="normal" >-150</text>
<text transform="translate(1207,175) rotate(-90)" font-size="29" text-anchor="middle">Frequency (KHz)</text>
<text x="1298.5" y="64.5" font-size="22.8" text-anchor="start" font-weight="bold" >NHQC+</text>
<text x="1173.2" y="28.3" font-size="39.5" text-anchor="start" font-weight="normal" >(e)</text>
<rect x="1449.6" y="206" width="77.30000000000018" height="100.89999999999998" fill="#fff" stroke="#c4c4c4" stroke-width="1"/>
<line x1="1452.8" y1="217" x2="1489" y2="217" stroke="#808080" stroke-width="5.2" stroke-linecap="round"/>
<text x="1498.5" y="222.6" font-size="17">Ω<tspan font-size="11.6" dy="5.1">1</tspan></text>
<line x1="1452.8" y1="243.6" x2="1489" y2="243.6" stroke="#5593e8" stroke-width="5.2" stroke-linecap="round"/>
<text x="1498.5" y="249.2" font-size="17">-Ω<tspan font-size="11.6" dy="5.1">1</tspan></text>
<line x1="1452.8" y1="268.5" x2="1489" y2="268.5" stroke="#69bf93" stroke-width="5.2" stroke-linecap="round"/>
<text x="1498.5" y="274.1" font-size="17">Ω<tspan font-size="11.6" dy="5.1">2</tspan></text>
<line x1="1452.8" y1="294" x2="1489" y2="294" stroke="#deb242" stroke-width="5.2" stroke-linecap="round"/>
<text x="1498.5" y="299.6" font-size="17">Δ</text>
<clipPath id="clb"><rect x="93.3" y="453" width="308.4" height="285.5"/></clipPath>
<g clip-path="url(#clb)">
<rect x="93.3" y="453" width="308.4" height="285.5" fill="#0000ff"/>
<ellipse rx="693.2" ry="252.7" fill="#0000ff" transform="translate(225.7,597.2) rotate(-93.53)"/>
<ellipse rx="688.5" ry="251.0" fill="#0000ff" transform="translate(225.9,597.2) rotate(-93.53)"/>
<ellipse rx="683.8" ry="249.3" fill="#0000ff" transform="translate(226.1,597.2) rotate(-93.53)"/>
<ellipse rx="679.1" ry="247.6" fill="#0000ff" transform="translate(226.3,597.2) rotate(-93.53)"/>
<ellipse rx="674.4" ry="245.9" fill="#0000ff" transform="translate(226.5,597.2) rotate(-93.53)"/>
<ellipse rx="669.6" ry="244.1" fill="#0000ff" transform="translate(226.7,597.2) rotate(-93.53)"/>
<ellipse rx="664.8" ry="242.4" fill="#0000ff" transform="translate(226.9,597.2) rotate(-93.53)"/>
<ellipse rx="659.9" ry="240.6" fill="#0000ff" transform="translate(227.1,597.2) rotate(-93.53)"/>
<ellipse rx="655.0" ry="238.8" fill="#0000ff" transform="translate(227.3,597.2) rotate(-93.53)"/>
<ellipse rx="650.1" ry="237.0" fill="#0000ff" transform="translate(227.5,597.2) rotate(-93.53)"/>
<ellipse rx="645.1" ry="235.2" fill="#0000ff" transform="translate(227.7,597.2) rotate(-93.53)"/>
<ellipse rx="640.1" ry="233.4" fill="#0000ff" transform="translate(228.0,597.2) rotate(-93.53)"/>
<ellipse rx="635.1" ry="231.5" fill="#0000ff" transform="translate(228.2,597.2) rotate(-93.53)"/>
<ellipse rx="630.0" ry="229.7" fill="#0000ff" transform="translate(228.4,597.2) rotate(-93.53)"/>
<ellipse rx="624.9" ry="227.8" fill="#0000ff" transform="translate(228.6,597.2) rotate(-93.53)"/>
<ellipse rx="619.7" ry="225.9" fill="#0000ff" transform="translate(228.8,597.2) rotate(-93.53)"/>
<ellipse rx="614.5" ry="224.0" fill="#0000ff" transform="translate(229.0,597.2) rotate(-93.53)"/>
<ellipse rx="609.3" ry="222.1" fill="#0000ff" transform="translate(229.2,597.2) rotate(-93.53)"/>
<ellipse rx="604.0" ry="220.2" fill="#0000ff" transform="translate(229.4,597.2) rotate(-93.53)"/>
<ellipse rx="598.6" ry="218.3" fill="#0000ff" transform="translate(229.6,597.2) rotate(-93.53)"/>
<ellipse rx="593.3" ry="216.3" fill="#0000ff" transform="translate(229.8,597.2) rotate(-93.53)"/>
<ellipse rx="587.8" ry="214.3" fill="#0000ff" transform="translate(230.1,597.2) rotate(-93.53)"/>
<ellipse rx="582.3" ry="212.3" fill="#0000ff" transform="translate(230.3,597.2) rotate(-93.53)"/>
<ellipse rx="576.8" ry="210.3" fill="#0000ff" transform="translate(230.5,597.2) rotate(-93.53)"/>
<ellipse rx="571.2" ry="208.2" fill="#0000ff" transform="translate(230.7,597.2) rotate(-93.53)"/>
<ellipse rx="565.5" ry="206.2" fill="#0000ff" transform="translate(230.9,597.2) rotate(-93.53)"/>
<ellipse rx="559.8" ry="204.1" fill="#0000ff" transform="translate(231.1,597.2) rotate(-93.53)"/>
<ellipse rx="554.1" ry="202.0" fill="#0000ff" transform="translate(231.3,597.2) rotate(-93.53)"/>
<ellipse rx="548.2" ry="199.9" fill="#0000ff" transform="translate(231.5,597.2) rotate(-93.53)"/>
<ellipse rx="542.3" ry="197.7" fill="#0000ff" transform="translate(231.7,597.2) rotate(-93.53)"/>
<ellipse rx="536.4" ry="195.5" fill="#0000ff" transform="translate(231.9,597.2) rotate(-93.53)"/>
<ellipse rx="530.4" ry="193.4" fill="#0000ff" transform="translate(232.2,597.2) rotate(-93.53)"/>
<ellipse rx="524.3" ry="191.1" fill="#0000ff" transform="translate(232.4,597.2) rotate(-93.53)"/>
<ellipse rx="518.1" ry="188.9" fill="#0000ff" transform="translate(232.6,597.2) rotate(-93.53)"/>
<ellipse rx="511.9" ry="186.6" fill="#0008ff" transform="translate(232.8,597.2) rotate(-93.53)"/>
<ellipse rx="505.5" ry="184.3" fill="#0022ff" transform="translate(233.0,597.2) rotate(-93.53)"/>
<ellipse rx="499.1" ry="182.0" fill="#003bff" transform="translate(233.2,597.2) rotate(-93.53)"/>
<ellipse rx="492.7" ry="179.6" fill="#0055ff" transform="translate(233.4,597.2) rotate(-93.53)"/>
<ellipse rx="486.1" ry="177.2" fill="#006eff" transform="translate(233.6,597.2) rotate(-93.53)"/>
<ellipse rx="479.4" ry="174.8" fill="#0088ff" transform="translate(233.8,597.2) rotate(-93.53)"/>
<ellipse rx="472.7" ry="172.3" fill="#00a1ff" transform="translate(234.0,597.2) rotate(-93.53)"/>
<ellipse rx="465.9" ry="169.8" fill="#00bbff" transform="translate(234.2,597.2) rotate(-93.53)"/>
<ellipse rx="458.9" ry="167.3" fill="#00d4ff" transform="translate(234.5,597.2) rotate(-93.53)"/>
<ellipse rx="451.9" ry="164.7" fill="#00eeff" transform="translate(234.7,597.2) rotate(-93.53)"/>
<ellipse rx="440.8" ry="162.1" fill="#00fff7" transform="translate(234.9,597.2) rotate(-93.54)"/>
<ellipse rx="425.7" ry="159.5" fill="#00ffdd" transform="translate(235.1,597.2) rotate(-93.56)"/>
<ellipse rx="411.2" ry="156.8" fill="#00ffc4" transform="translate(235.3,597.2) rotate(-93.59)"/>
<ellipse rx="397.2" ry="154.0" fill="#00ffaa" transform="translate(235.5,597.2) rotate(-93.61)"/>
<ellipse rx="383.7" ry="151.2" fill="#00ff91" transform="translate(235.7,597.2) rotate(-93.63)"/>
<ellipse rx="370.5" ry="148.4" fill="#00ff77" transform="translate(235.9,597.2) rotate(-93.65)"/>
<ellipse rx="357.7" ry="145.5" fill="#00ff5e" transform="translate(236.1,597.2) rotate(-93.67)"/>
<ellipse rx="345.2" ry="142.5" fill="#00ff44" transform="translate(236.3,597.2) rotate(-93.69)"/>
<ellipse rx="333.0" ry="139.5" fill="#00ff2b" transform="translate(236.6,597.2) rotate(-93.72)"/>
<ellipse rx="321.1" ry="136.4" fill="#00ff11" transform="translate(236.8,597.2) rotate(-93.74)"/>
<ellipse rx="309.4" ry="133.2" fill="#08ff00" transform="translate(237.0,597.2) rotate(-93.76)"/>
<ellipse rx="297.8" ry="129.9" fill="#22ff00" transform="translate(237.2,597.2) rotate(-93.79)"/>
<ellipse rx="286.5" ry="126.6" fill="#3bff00" transform="translate(237.4,597.2) rotate(-93.81)"/>
<ellipse rx="275.2" ry="123.2" fill="#55ff00" transform="translate(237.6,597.2) rotate(-93.83)"/>
<ellipse rx="264.1" ry="119.7" fill="#6eff00" transform="translate(237.8,597.2) rotate(-93.86)"/>
<ellipse rx="253.0" ry="116.1" fill="#88ff00" transform="translate(238.0,597.2) rotate(-93.88)"/>
<ellipse rx="242.0" ry="112.3" fill="#a1ff00" transform="translate(238.2,597.2) rotate(-93.91)"/>
<ellipse rx="231.0" ry="108.4" fill="#bbff00" transform="translate(238.4,597.2) rotate(-93.93)"/>
<ellipse rx="220.0" ry="104.4" fill="#d4ff00" transform="translate(238.7,597.2) rotate(-93.96)"/>
<ellipse rx="208.9" ry="100.3" fill="#eeff00" transform="translate(238.9,597.2) rotate(-93.98)"/>
<ellipse rx="197.7" ry="95.9" fill="#fff700" transform="translate(239.1,597.2) rotate(-94.01)"/>
<ellipse rx="186.3" ry="91.3" fill="#ffdd00" transform="translate(239.3,597.2) rotate(-94.04)"/>
<ellipse rx="174.7" ry="86.5" fill="#ffc400" transform="translate(239.5,597.2) rotate(-94.06)"/>
<ellipse rx="162.8" ry="81.5" fill="#ffaa00" transform="translate(239.7,597.2) rotate(-94.09)"/>
<ellipse rx="150.5" ry="76.0" fill="#ff9100" transform="translate(239.9,597.2) rotate(-94.12)"/>
<ellipse rx="137.6" ry="70.2" fill="#ff7700" transform="translate(240.1,597.2) rotate(-94.14)"/>
<ellipse rx="123.9" ry="63.8" fill="#ff5e00" transform="translate(240.3,597.2) rotate(-94.17)"/>
<ellipse rx="109.2" ry="56.8" fill="#ff4400" transform="translate(240.5,597.2) rotate(-94.20)"/>
<ellipse rx="92.8" ry="48.7" fill="#ff2b00" transform="translate(240.8,597.2) rotate(-94.23)"/>
<ellipse rx="73.5" ry="38.9" fill="#ff1100" transform="translate(241.0,597.2) rotate(-94.26)"/>
<ellipse rx="48.2" ry="25.7" fill="#ff0000" transform="translate(241.2,597.2) rotate(-94.29)"/>
</g>
<rect x="93.3" y="453" width="308.4" height="285.5" fill="none" stroke="#3c3c3c" stroke-width="1.3"/>
<path d="M131.9 738.5v-2.5 M93.3 702.8h2.5 M170.4 738.5v-5 M93.3 667.1h5 M208.9 738.5v-2.5 M93.3 631.4h2.5 M247.5 738.5v-5 M93.3 595.8h5 M286.1 738.5v-2.5 M93.3 560.1h2.5 M324.6 738.5v-5 M93.3 524.4h5 M363.1 738.5v-2.5 M93.3 488.7h2.5" stroke="#222" stroke-width="1.3" fill="none"/>
<text x="58.5" y="534.5" font-size="33" text-anchor="middle" font-weight="normal" >0.5</text>
<text x="56.0" y="679.7" font-size="33" text-anchor="middle" font-weight="normal" >-0.5</text>
<text x="166.5" y="773.8" font-size="32" text-anchor="middle" font-weight="normal" >-0.5</text>
<text x="323.0" y="773.8" font-size="32" text-anchor="middle" font-weight="normal" >0.5</text>
<text x="27.0" y="601.0" font-size="31" text-anchor="middle" font-weight="normal" >β</text>
<text x="247.0" y="793.0" font-size="31" text-anchor="middle" font-weight="normal" >α</text>
<text x="-1.0" y="436.8" font-size="40" text-anchor="start" font-weight="normal" >(b)</text>
<g shape-rendering="crispEdges">
<rect x="448" y="453.40" width="25.19999999999999" height="3.55" fill="#ff0000"/>
<rect x="448" y="456.65" width="25.19999999999999" height="4.61" fill="#ff0000"/>
<rect x="448" y="460.95" width="25.19999999999999" height="4.61" fill="#ff1000"/>
<rect x="448" y="465.26" width="25.19999999999999" height="4.61" fill="#ff2000"/>
<rect x="448" y="469.57" width="25.19999999999999" height="4.61" fill="#ff3000"/>
<rect x="448" y="473.87" width="25.19999999999999" height="4.61" fill="#ff4000"/>
<rect x="448" y="478.18" width="25.19999999999999" height="4.61" fill="#ff5000"/>
<rect x="448" y="482.48" width="25.19999999999999" height="4.61" fill="#ff6000"/>
<rect x="448" y="486.79" width="25.19999999999999" height="4.61" fill="#ff7000"/>
<rect x="448" y="491.10" width="25.19999999999999" height="4.61" fill="#ff7f00"/>
<rect x="448" y="495.40" width="25.19999999999999" height="4.61" fill="#ff8f00"/>
<rect x="448" y="499.71" width="25.19999999999999" height="4.61" fill="#ff9f00"/>
<rect x="448" y="504.02" width="25.19999999999999" height="4.61" fill="#ffaf00"/>
<rect x="448" y="508.32" width="25.19999999999999" height="4.61" fill="#ffbf00"/>
<rect x="448" y="512.63" width="25.19999999999999" height="4.61" fill="#ffcf00"/>
<rect x="448" y="516.93" width="25.19999999999999" height="4.61" fill="#ffdf00"/>
<rect x="448" y="521.24" width="25.19999999999999" height="4.61" fill="#ffef00"/>
<rect x="448" y="525.55" width="25.19999999999999" height="4.61" fill="#ffff00"/>
<rect x="448" y="529.85" width="25.19999999999999" height="4.61" fill="#efff00"/>
<rect x="448" y="534.16" width="25.19999999999999" height="4.61" fill="#dfff00"/>
<rect x="448" y="538.47" width="25.19999999999999" height="4.61" fill="#cfff00"/>
<rect x="448" y="542.77" width="25.19999999999999" height="4.61" fill="#bfff00"/>
<rect x="448" y="547.08" width="25.19999999999999" height="4.61" fill="#afff00"/>
<rect x="448" y="551.38" width="25.19999999999999" height="4.61" fill="#9fff00"/>
<rect x="448" y="555.69" width="25.19999999999999" height="4.61" fill="#8fff00"/>
<rect x="448" y="560.00" width="25.19999999999999" height="4.61" fill="#80ff00"/>
<rect x="448" y="564.30" width="25.19999999999999" height="4.61" fill="#70ff00"/>
<rect x="448" y="568.61" width="25.19999999999999" height="4.61" fill="#60ff00"/>
<rect x="448" y="572.92" width="25.19999999999999" height="4.61" fill="#50ff00"/>
<rect x="448" y="577.22" width="25.19999999999999" height="4.61" fill="#40ff00"/>
<rect x="448" y="581.53" width="25.19999999999999" height="4.61" fill="#30ff00"/>
<rect x="448" y="585.83" width="25.19999999999999" height="4.61" fill="#20ff00"/>
<rect x="448" y="590.14" width="25.19999999999999" height="4.61" fill="#10ff00"/>
<rect x="448" y="594.45" width="25.19999999999999" height="4.61" fill="#00ff00"/>
<rect x="448" y="598.75" width="25.19999999999999" height="4.61" fill="#00ff10"/>
<rect x="448" y="603.06" width="25.19999999999999" height="4.61" fill="#00ff20"/>
<rect x="448" y="607.37" width="25.19999999999999" height="4.61" fill="#00ff30"/>
<rect x="448" y="611.67" width="25.19999999999999" height="4.61" fill="#00ff40"/>
<rect x="448" y="615.98" width="25.19999999999999" height="4.61" fill="#00ff50"/>
<rect x="448" y="620.28" width="25.19999999999999" height="4.61" fill="#00ff60"/>
<rect x="448" y="624.59" width="25.19999999999999" height="4.61" fill="#00ff70"/>
<rect x="448" y="628.90" width="25.19999999999999" height="4.61" fill="#00ff7f"/>
<rect x="448" y="633.20" width="25.19999999999999" height="4.61" fill="#00ff8f"/>
<rect x="448" y="637.51" width="25.19999999999999" height="4.61" fill="#00ff9f"/>
<rect x="448" y="641.82" width="25.19999999999999" height="4.61" fill="#00ffaf"/>
<rect x="448" y="646.12" width="25.19999999999999" height="4.61" fill="#00ffbf"/>
<rect x="448" y="650.43" width="25.19999999999999" height="4.61" fill="#00ffcf"/>
<rect x="448" y="654.73" width="25.19999999999999" height="4.61" fill="#00ffdf"/>
<rect x="448" y="659.04" width="25.19999999999999" height="4.61" fill="#00ffef"/>
<rect x="448" y="663.35" width="25.19999999999999" height="4.61" fill="#00ffff"/>
<rect x="448" y="667.65" width="25.19999999999999" height="4.61" fill="#00efff"/>
<rect x="448" y="671.96" width="25.19999999999999" height="4.61" fill="#00dfff"/>
<rect x="448" y="676.27" width="25.19999999999999" height="4.61" fill="#00cfff"/>
<rect x="448" y="680.57" width="25.19999999999999" height="4.61" fill="#00bfff"/>
<rect x="448" y="684.88" width="25.19999999999999" height="4.61" fill="#00afff"/>
<rect x="448" y="689.18" width="25.19999999999999" height="4.61" fill="#009fff"/>
<rect x="448" y="693.49" width="25.19999999999999" height="4.61" fill="#008fff"/>
<rect x="448" y="697.80" width="25.19999999999999" height="4.61" fill="#0080ff"/>
<rect x="448" y="702.10" width="25.19999999999999" height="4.61" fill="#0070ff"/>
<rect x="448" y="706.41" width="25.19999999999999" height="4.61" fill="#0060ff"/>
<rect x="448" y="710.72" width="25.19999999999999" height="4.61" fill="#0050ff"/>
<rect x="448" y="715.02" width="25.19999999999999" height="4.61" fill="#0040ff"/>
<rect x="448" y="719.33" width="25.19999999999999" height="4.61" fill="#0030ff"/>
<rect x="448" y="723.63" width="25.19999999999999" height="4.61" fill="#0020ff"/>
<rect x="448" y="727.94" width="25.19999999999999" height="4.61" fill="#0010ff"/>
<rect x="448" y="732.25" width="25.19999999999999" height="4.61" fill="#0000ff"/>
<rect x="448" y="736.55" width="25.19999999999999" height="2.25" fill="#0000ff"/>
</g>
<rect x="448" y="453.4" width="25.19999999999999" height="285.1" fill="none" stroke="#666" stroke-width="1"/>
<path d="M473.2 458.8h5.6 M473.2 493.2h5.6 M473.2 527.7h5.6 M473.2 562.1h5.6 M473.2 596.6h5.6 M473.2 631.0h5.6 M473.2 665.5h5.6 M473.2 700.0h5.6 M473.2 734.4h5.6" stroke="#444" stroke-width="1.2" fill="none"/>
<text x="493.0" y="468.1" font-size="26.3" text-anchor="start" font-weight="normal" >1.00</text>
<text x="491.5" y="532.5" font-size="26.3" text-anchor="start" font-weight="normal" >0.996</text>
<text x="493.0" y="604.9" font-size="26.3" text-anchor="start" font-weight="normal" >0.992</text>
<text x="494.5" y="674.8" font-size="26.3" text-anchor="start" font-weight="normal" >0.988</text>
<text x="495.0" y="738.2" font-size="26.3" text-anchor="start" font-weight="normal" >0.984</text>
<text x="428.0" y="431.5" font-size="23" text-anchor="start" font-weight="normal" >Contrast</text>
<clipPath id="cld"><rect x="696.5" y="447" width="304.5" height="283.4"/></clipPath>
<g clip-path="url(#cld)">
<rect x="696.5" y="447" width="304.5" height="283.4" fill="#ff0000"/>
<polygon points="696.5,563.7 1001,432.8 1001,147 696.5,147" fill="#ff1900"/>
<polygon points="696.5,527.8 1001,395.3 1001,147 696.5,147" fill="#ff3300"/>
<polygon points="696.5,502.0 1001,368.0 1001,147 696.5,147" fill="#ff4c00"/>
<polygon points="696.5,480.8 1001,340.7 1001,147 696.5,147" fill="#ff6600"/>
<polygon points="696.5,461.7 1001,309.4 1001,147 696.5,147" fill="#ff7f00"/>
<polygon points="1001,621.8 696.5,739.3 696.5,1030.4 1001,1030.4" fill="#ff1900"/>
<polygon points="1001,661.9 696.5,782.2 696.5,1030.4 1001,1030.4" fill="#ff3300"/>
<polygon points="1001,694.1 696.5,812.9 696.5,1030.4 1001,1030.4" fill="#ff4c00"/>
<polygon points="1001,721.1 696.5,836.8 696.5,1030.4 1001,1030.4" fill="#ff6600"/>
</g>
<rect x="696.5" y="447" width="304.5" height="283.4" fill="none" stroke="#3c3c3c" stroke-width="1.3"/>
<path d="M734.6 730.4v-2.5 M696.5 695.0h2.5 M772.6 730.4v-5 M696.5 659.6h5 M810.7 730.4v-2.5 M696.5 624.1h2.5 M848.8 730.4v-5 M696.5 588.7h5 M886.8 730.4v-2.5 M696.5 553.3h2.5 M924.9 730.4v-5 M696.5 517.9h5 M962.9 730.4v-2.5 M696.5 482.4h2.5" stroke="#222" stroke-width="1.3" fill="none"/>
<text x="660.0" y="532.3" font-size="33" text-anchor="middle" font-weight="normal" >0.5</text>
<text x="659.0" y="672.6" font-size="33" text-anchor="middle" font-weight="normal" >-0.5</text>
<text x="770.0" y="770.3" font-size="32" text-anchor="middle" font-weight="normal" >-0.5</text>
<text x="928.0" y="770.3" font-size="32" text-anchor="middle" font-weight="normal" >0.5</text>
<text x="627.0" y="594.0" font-size="31" text-anchor="middle" font-weight="normal" >β</text>
<text x="856.0" y="793.0" font-size="31" text-anchor="middle" font-weight="normal" >α</text>
<text x="588.0" y="435.8" font-size="39" text-anchor="start" font-weight="normal" >(d)</text>
<g shape-rendering="crispEdges">
<rect x="1047.3" y="446.80" width="24.40000000000009" height="3.88" fill="#ff0000"/>
<rect x="1047.3" y="450.38" width="24.40000000000009" height="4.55" fill="#ff0000"/>
<rect x="1047.3" y="454.62" width="24.40000000000009" height="4.55" fill="#ff1000"/>
<rect x="1047.3" y="458.87" width="24.40000000000009" height="4.55" fill="#ff2000"/>
<rect x="1047.3" y="463.12" width="24.40000000000009" height="4.55" fill="#ff3000"/>
<rect x="1047.3" y="467.36" width="24.40000000000009" height="4.55" fill="#ff4000"/>
<rect x="1047.3" y="471.61" width="24.40000000000009" height="4.55" fill="#ff5000"/>
<rect x="1047.3" y="475.86" width="24.40000000000009" height="4.55" fill="#ff6000"/>
<rect x="1047.3" y="480.10" width="24.40000000000009" height="4.55" fill="#ff7000"/>
<rect x="1047.3" y="484.35" width="24.40000000000009" height="4.55" fill="#ff7f00"/>
<rect x="1047.3" y="488.60" width="24.40000000000009" height="4.55" fill="#ff8f00"/>
<rect x="1047.3" y="492.85" width="24.40000000000009" height="4.55" fill="#ff9f00"/>
<rect x="1047.3" y="497.09" width="24.40000000000009" height="4.55" fill="#ffaf00"/>
<rect x="1047.3" y="501.34" width="24.40000000000009" height="4.55" fill="#ffbf00"/>
<rect x="1047.3" y="505.59" width="24.40000000000009" height="4.55" fill="#ffcf00"/>
<rect x="1047.3" y="509.83" width="24.40000000000009" height="4.55" fill="#ffdf00"/>
<rect x="1047.3" y="514.08" width="24.40000000000009" height="4.55" fill="#ffef00"/>
<rect x="1047.3" y="518.33" width="24.40000000000009" height="4.55" fill="#ffff00"/>
<rect x="1047.3" y="522.57" width="24.40000000000009" height="4.55" fill="#efff00"/>
<rect x="1047.3" y="526.82" width="24.40000000000009" height="4.55" fill="#dfff00"/>
<rect x="1047.3" y="531.07" width="24.40000000000009" height="4.55" fill="#cfff00"/>
<rect x="1047.3" y="535.31" width="24.40000000000009" height="4.55" fill="#bfff00"/>
<rect x="1047.3" y="539.56" width="24.40000000000009" height="4.55" fill="#afff00"/>
<rect x="1047.3" y="543.81" width="24.40000000000009" height="4.55" fill="#9fff00"/>
<rect x="1047.3" y="548.05" width="24.40000000000009" height="4.55" fill="#8fff00"/>
<rect x="1047.3" y="552.30" width="24.40000000000009" height="4.55" fill="#80ff00"/>
<rect x="1047.3" y="556.55" width="24.40000000000009" height="4.55" fill="#70ff00"/>
<rect x="1047.3" y="560.80" width="24.40000000000009" height="4.55" fill="#60ff00"/>
<rect x="1047.3" y="565.04" width="24.40000000000009" height="4.55" fill="#50ff00"/>
<rect x="1047.3" y="569.29" width="24.40000000000009" height="4.55" fill="#40ff00"/>
<rect x="1047.3" y="573.54" width="24.40000000000009" height="4.55" fill="#30ff00"/>
<rect x="1047.3" y="577.78" width="24.40000000000009" height="4.55" fill="#20ff00"/>
<rect x="1047.3" y="582.03" width="24.40000000000009" height="4.55" fill="#10ff00"/>
<rect x="1047.3" y="586.28" width="24.40000000000009" height="4.55" fill="#00ff00"/>
<rect x="1047.3" y="590.52" width="24.40000000000009" height="4.55" fill="#00ff10"/>
<rect x="1047.3" y="594.77" width="24.40000000000009" height="4.55" fill="#00ff20"/>
<rect x="1047.3" y="599.02" width="24.40000000000009" height="4.55" fill="#00ff30"/>
<rect x="1047.3" y="603.26" width="24.40000000000009" height="4.55" fill="#00ff40"/>
<rect x="1047.3" y="607.51" width="24.40000000000009" height="4.55" fill="#00ff50"/>
<rect x="1047.3" y="611.76" width="24.40000000000009" height="4.55" fill="#00ff60"/>
<rect x="1047.3" y="616.00" width="24.40000000000009" height="4.55" fill="#00ff70"/>
<rect x="1047.3" y="620.25" width="24.40000000000009" height="4.55" fill="#00ff7f"/>
<rect x="1047.3" y="624.50" width="24.40000000000009" height="4.55" fill="#00ff8f"/>
<rect x="1047.3" y="628.75" width="24.40000000000009" height="4.55" fill="#00ff9f"/>
<rect x="1047.3" y="632.99" width="24.40000000000009" height="4.55" fill="#00ffaf"/>
<rect x="1047.3" y="637.24" width="24.40000000000009" height="4.55" fill="#00ffbf"/>
<rect x="1047.3" y="641.49" width="24.40000000000009" height="4.55" fill="#00ffcf"/>
<rect x="1047.3" y="645.73" width="24.40000000000009" height="4.55" fill="#00ffdf"/>
<rect x="1047.3" y="649.98" width="24.40000000000009" height="4.55" fill="#00ffef"/>
<rect x="1047.3" y="654.23" width="24.40000000000009" height="4.55" fill="#00ffff"/>
<rect x="1047.3" y="658.47" width="24.40000000000009" height="4.55" fill="#00efff"/>
<rect x="1047.3" y="662.72" width="24.40000000000009" height="4.55" fill="#00dfff"/>
<rect x="1047.3" y="666.97" width="24.40000000000009" height="4.55" fill="#00cfff"/>
<rect x="1047.3" y="671.21" width="24.40000000000009" height="4.55" fill="#00bfff"/>
<rect x="1047.3" y="675.46" width="24.40000000000009" height="4.55" fill="#00afff"/>
<rect x="1047.3" y="679.71" width="24.40000000000009" height="4.55" fill="#009fff"/>
<rect x="1047.3" y="683.95" width="24.40000000000009" height="4.55" fill="#008fff"/>
<rect x="1047.3" y="688.20" width="24.40000000000009" height="4.55" fill="#0080ff"/>
<rect x="1047.3" y="692.45" width="24.40000000000009" height="4.55" fill="#0070ff"/>
<rect x="1047.3" y="696.70" width="24.40000000000009" height="4.55" fill="#0060ff"/>
<rect x="1047.3" y="700.94" width="24.40000000000009" height="4.55" fill="#0050ff"/>
<rect x="1047.3" y="705.19" width="24.40000000000009" height="4.55" fill="#0040ff"/>
<rect x="1047.3" y="709.44" width="24.40000000000009" height="4.55" fill="#0030ff"/>
<rect x="1047.3" y="713.68" width="24.40000000000009" height="4.55" fill="#0020ff"/>
<rect x="1047.3" y="717.93" width="24.40000000000009" height="4.55" fill="#0010ff"/>
<rect x="1047.3" y="722.18" width="24.40000000000009" height="4.55" fill="#0000ff"/>
<rect x="1047.3" y="726.42" width="24.40000000000009" height="4.08" fill="#0000ff"/>
</g>
<rect x="1047.3" y="446.8" width="24.40000000000009" height="283.40000000000003" fill="none" stroke="#666" stroke-width="1"/>
<path d="M1071.7 452.5h5.6 M1071.7 486.5h5.6 M1071.7 520.5h5.6 M1071.7 554.4h5.6 M1071.7 588.4h5.6 M1071.7 622.4h5.6 M1071.7 656.3h5.6 M1071.7 690.3h5.6 M1071.7 724.3h5.6" stroke="#444" stroke-width="1.2" fill="none"/>
<text x="1091.0" y="460.8" font-size="26.3" text-anchor="start" font-weight="normal" >1.00</text>
<text x="1091.0" y="527.8" font-size="26.3" text-anchor="start" font-weight="normal" >0.996</text>
<text x="1092.0" y="596.7" font-size="26.3" text-anchor="start" font-weight="normal" >0.992</text>
<text x="1094.0" y="666.1" font-size="26.3" text-anchor="start" font-weight="normal" >0.988</text>
<text x="1095.0" y="730.1" font-size="26.3" text-anchor="start" font-weight="normal" >0.984</text>
<text x="1028.0" y="422.8" font-size="23" text-anchor="start" font-weight="normal" >Contrast</text>
<clipPath id="clf"><rect x="1268.5" y="445.3" width="306.5" height="284.90000000000003"/></clipPath>
<g clip-path="url(#clf)">
<rect x="1268.5" y="445.3" width="306.5" height="284.90000000000003" fill="#0000ff"/>
<ellipse rx="904.9" ry="240.8" fill="#0000ff" transform="translate(1463.5,530.5) rotate(-54.30)"/>
<ellipse rx="896.6" ry="238.9" fill="#0000ff" transform="translate(1463.5,530.5) rotate(-54.30)"/>
<ellipse rx="888.2" ry="237.0" fill="#0000ff" transform="translate(1463.5,530.5) rotate(-54.30)"/>
<ellipse rx="879.8" ry="235.1" fill="#0000ff" transform="translate(1463.5,530.5) rotate(-54.30)"/>
<ellipse rx="871.3" ry="233.1" fill="#0000ff" transform="translate(1463.5,530.5) rotate(-54.30)"/>
<ellipse rx="862.7" ry="231.2" fill="#0000ff" transform="translate(1463.5,530.5) rotate(-54.30)"/>
<ellipse rx="854.0" ry="229.2" fill="#0000ff" transform="translate(1463.5,530.5) rotate(-54.30)"/>
<ellipse rx="845.3" ry="227.2" fill="#0000ff" transform="translate(1463.5,530.5) rotate(-54.30)"/>
<ellipse rx="836.4" ry="225.2" fill="#0000ff" transform="translate(1463.5,530.5) rotate(-54.30)"/>
<ellipse rx="827.4" ry="223.2" fill="#0000ff" transform="translate(1463.5,530.5) rotate(-54.30)"/>
<ellipse rx="818.4" ry="221.2" fill="#0000ff" transform="translate(1463.5,530.5) rotate(-54.30)"/>
<ellipse rx="809.2" ry="219.1" fill="#0000ff" transform="translate(1463.5,530.5) rotate(-54.30)"/>
<ellipse rx="800.0" ry="217.0" fill="#0000ff" transform="translate(1463.5,530.5) rotate(-54.30)"/>
<ellipse rx="790.6" ry="214.9" fill="#0000ff" transform="translate(1463.5,530.5) rotate(-54.30)"/>
<ellipse rx="781.1" ry="212.8" fill="#0000ff" transform="translate(1463.5,530.5) rotate(-54.30)"/>
<ellipse rx="771.5" ry="210.7" fill="#0000ff" transform="translate(1463.5,530.5) rotate(-54.30)"/>
<ellipse rx="761.8" ry="208.5" fill="#000dff" transform="translate(1463.5,530.5) rotate(-54.30)"/>
<ellipse rx="752.0" ry="206.3" fill="#0026ff" transform="translate(1463.5,530.5) rotate(-54.30)"/>
<ellipse rx="742.0" ry="204.1" fill="#0040ff" transform="translate(1463.5,530.5) rotate(-54.30)"/>
<ellipse rx="731.9" ry="201.9" fill="#0059ff" transform="translate(1463.5,530.5) rotate(-54.30)"/>
<ellipse rx="721.6" ry="199.6" fill="#0073ff" transform="translate(1463.5,530.5) rotate(-54.30)"/>
<ellipse rx="711.2" ry="197.3" fill="#008cff" transform="translate(1463.5,530.5) rotate(-54.30)"/>
<ellipse rx="700.7" ry="195.0" fill="#00a6ff" transform="translate(1463.5,530.5) rotate(-54.30)"/>
<ellipse rx="690.0" ry="192.7" fill="#00bfff" transform="translate(1463.5,530.5) rotate(-54.30)"/>
<ellipse rx="679.1" ry="190.3" fill="#00d9ff" transform="translate(1463.5,530.5) rotate(-54.30)"/>
<ellipse rx="668.0" ry="187.9" fill="#00f2ff" transform="translate(1463.5,530.5) rotate(-54.30)"/>
<ellipse rx="656.8" ry="185.5" fill="#00fff2" transform="translate(1463.5,530.5) rotate(-54.30)"/>
<ellipse rx="645.3" ry="182.5" fill="#00ffd9" transform="translate(1463.5,530.5) rotate(-54.30)"/>
<ellipse rx="633.7" ry="179.5" fill="#00ffbf" transform="translate(1463.5,530.5) rotate(-54.30)"/>
<ellipse rx="621.8" ry="176.4" fill="#00ffa6" transform="translate(1463.5,530.5) rotate(-54.30)"/>
<ellipse rx="609.7" ry="173.2" fill="#00ff8c" transform="translate(1463.5,530.5) rotate(-54.30)"/>
<ellipse rx="597.4" ry="170.0" fill="#00ff73" transform="translate(1463.5,530.5) rotate(-54.30)"/>
<ellipse rx="584.8" ry="166.8" fill="#00ff59" transform="translate(1463.5,530.5) rotate(-54.30)"/>
<ellipse rx="571.9" ry="163.4" fill="#00ff40" transform="translate(1463.5,530.5) rotate(-54.30)"/>
<ellipse rx="558.7" ry="160.0" fill="#00ff26" transform="translate(1463.5,530.5) rotate(-54.30)"/>
<ellipse rx="545.2" ry="156.6" fill="#00ff0d" transform="translate(1463.5,530.5) rotate(-54.30)"/>
<ellipse rx="531.4" ry="153.0" fill="#0dff00" transform="translate(1463.5,530.5) rotate(-54.30)"/>
<ellipse rx="517.2" ry="149.3" fill="#26ff00" transform="translate(1463.5,530.5) rotate(-54.30)"/>
<ellipse rx="502.5" ry="145.5" fill="#40ff00" transform="translate(1463.5,530.5) rotate(-54.30)"/>
<ellipse rx="487.5" ry="141.6" fill="#59ff00" transform="translate(1463.5,530.5) rotate(-54.30)"/>
<ellipse rx="472.0" ry="137.6" fill="#73ff00" transform="translate(1463.5,530.5) rotate(-54.30)"/>
<ellipse rx="455.9" ry="133.5" fill="#8cff00" transform="translate(1463.5,530.5) rotate(-54.30)"/>
<ellipse rx="439.3" ry="129.2" fill="#a6ff00" transform="translate(1463.5,530.5) rotate(-54.30)"/>
<ellipse rx="422.0" ry="124.8" fill="#bfff00" transform="translate(1463.5,530.5) rotate(-54.30)"/>
<ellipse rx="403.9" ry="120.2" fill="#d9ff00" transform="translate(1463.5,530.5) rotate(-54.30)"/>
<ellipse rx="385.0" ry="115.5" fill="#f2ff00" transform="translate(1463.5,530.5) rotate(-54.30)"/>
<ellipse rx="365.2" ry="110.5" fill="#fff200" transform="translate(1463.5,530.5) rotate(-54.30)"/>
<ellipse rx="344.2" ry="105.0" fill="#ffd900" transform="translate(1463.5,530.5) rotate(-54.30)"/>
<ellipse rx="321.8" ry="99.3" fill="#ffbf00" transform="translate(1463.5,530.5) rotate(-54.30)"/>
<ellipse rx="297.7" ry="93.2" fill="#ffa600" transform="translate(1463.5,530.5) rotate(-54.30)"/>
<ellipse rx="271.6" ry="86.7" fill="#ff8c00" transform="translate(1463.5,530.5) rotate(-54.30)"/>
<ellipse rx="242.6" ry="79.6" fill="#ff7300" transform="translate(1463.5,530.5) rotate(-54.30)"/>
<ellipse rx="209.7" ry="71.3" fill="#ff5900" transform="translate(1463.5,530.5) rotate(-54.30)"/>
<ellipse rx="170.5" ry="58.0" fill="#ff4000" transform="translate(1463.5,530.5) rotate(-54.30)"/>
<ellipse rx="119.0" ry="35.6" fill="#ff2600" transform="translate(1463.5,530.5) rotate(-54.30)"/>
</g>
<rect x="1268.5" y="445.3" width="306.5" height="284.90000000000003" fill="none" stroke="#3c3c3c" stroke-width="1.3"/>
<path d="M1306.8 730.2v-2.5 M1268.5 694.6h2.5 M1345.1 730.2v-5 M1268.5 659.0h5 M1383.4 730.2v-2.5 M1268.5 623.4h2.5 M1421.8 730.2v-5 M1268.5 587.8h5 M1460.1 730.2v-2.5 M1268.5 552.1h2.5 M1498.4 730.2v-5 M1268.5 516.5h5 M1536.7 730.2v-2.5 M1268.5 480.9h2.5" stroke="#222" stroke-width="1.3" fill="none"/>
<text x="1235.0" y="527.9" font-size="33" text-anchor="middle" font-weight="normal" >0.5</text>
<text x="1235.0" y="672.6" font-size="33" text-anchor="middle" font-weight="normal" >-0.5</text>
<text x="1342.0" y="768.8" font-size="32" text-anchor="middle" font-weight="normal" >-0.5</text>
<text x="1499.0" y="768.8" font-size="32" text-anchor="middle" font-weight="normal" >0.5</text>
<text x="1208.0" y="596.0" font-size="31" text-anchor="middle" font-weight="normal" >β</text>
<text x="1428.5" y="791.5" font-size="31" text-anchor="middle" font-weight="normal" >α</text>
<text x="1173.0" y="417.3" font-size="39.5" text-anchor="start" font-weight="normal" >(f)</text>
<g shape-rendering="crispEdges">
<rect x="1622" y="445.30" width="24.5" height="3.87" fill="#ff0000"/>
<rect x="1622" y="448.87" width="24.5" height="4.57" fill="#ff0000"/>
<rect x="1622" y="453.13" width="24.5" height="4.57" fill="#ff1000"/>
<rect x="1622" y="457.40" width="24.5" height="4.57" fill="#ff2000"/>
<rect x="1622" y="461.66" width="24.5" height="4.57" fill="#ff3000"/>
<rect x="1622" y="465.93" width="24.5" height="4.57" fill="#ff4000"/>
<rect x="1622" y="470.20" width="24.5" height="4.57" fill="#ff5000"/>
<rect x="1622" y="474.46" width="24.5" height="4.57" fill="#ff6000"/>
<rect x="1622" y="478.73" width="24.5" height="4.57" fill="#ff7000"/>
<rect x="1622" y="482.99" width="24.5" height="4.57" fill="#ff7f00"/>
<rect x="1622" y="487.26" width="24.5" height="4.57" fill="#ff8f00"/>
<rect x="1622" y="491.52" width="24.5" height="4.57" fill="#ff9f00"/>
<rect x="1622" y="495.79" width="24.5" height="4.57" fill="#ffaf00"/>
<rect x="1622" y="500.05" width="24.5" height="4.57" fill="#ffbf00"/>
<rect x="1622" y="504.32" width="24.5" height="4.57" fill="#ffcf00"/>
<rect x="1622" y="508.59" width="24.5" height="4.57" fill="#ffdf00"/>
<rect x="1622" y="512.85" width="24.5" height="4.57" fill="#ffef00"/>
<rect x="1622" y="517.12" width="24.5" height="4.57" fill="#ffff00"/>
<rect x="1622" y="521.38" width="24.5" height="4.57" fill="#efff00"/>
<rect x="1622" y="525.65" width="24.5" height="4.57" fill="#dfff00"/>
<rect x="1622" y="529.91" width="24.5" height="4.57" fill="#cfff00"/>
<rect x="1622" y="534.18" width="24.5" height="4.57" fill="#bfff00"/>
<rect x="1622" y="538.45" width="24.5" height="4.57" fill="#afff00"/>
<rect x="1622" y="542.71" width="24.5" height="4.57" fill="#9fff00"/>
<rect x="1622" y="546.98" width="24.5" height="4.57" fill="#8fff00"/>
<rect x="1622" y="551.24" width="24.5" height="4.57" fill="#80ff00"/>
<rect x="1622" y="555.51" width="24.5" height="4.57" fill="#70ff00"/>
<rect x="1622" y="559.77" width="24.5" height="4.57" fill="#60ff00"/>
<rect x="1622" y="564.04" width="24.5" height="4.57" fill="#50ff00"/>
<rect x="1622" y="568.30" width="24.5" height="4.57" fill="#40ff00"/>
<rect x="1622" y="572.57" width="24.5" height="4.57" fill="#30ff00"/>
<rect x="1622" y="576.84" width="24.5" height="4.57" fill="#20ff00"/>
<rect x="1622" y="581.10" width="24.5" height="4.57" fill="#10ff00"/>
<rect x="1622" y="585.37" width="24.5" height="4.57" fill="#00ff00"/>
<rect x="1622" y="589.63" width="24.5" height="4.57" fill="#00ff10"/>
<rect x="1622" y="593.90" width="24.5" height="4.57" fill="#00ff20"/>
<rect x="1622" y="598.16" width="24.5" height="4.57" fill="#00ff30"/>
<rect x="1622" y="602.43" width="24.5" height="4.57" fill="#00ff40"/>
<rect x="1622" y="606.70" width="24.5" height="4.57" fill="#00ff50"/>
<rect x="1622" y="610.96" width="24.5" height="4.57" fill="#00ff60"/>
<rect x="1622" y="615.23" width="24.5" height="4.57" fill="#00ff70"/>
<rect x="1622" y="619.49" width="24.5" height="4.57" fill="#00ff7f"/>
<rect x="1622" y="623.76" width="24.5" height="4.57" fill="#00ff8f"/>
<rect x="1622" y="628.02" width="24.5" height="4.57" fill="#00ff9f"/>
<rect x="1622" y="632.29" width="24.5" height="4.57" fill="#00ffaf"/>
<rect x="1622" y="636.55" width="24.5" height="4.57" fill="#00ffbf"/>
<rect x="1622" y="640.82" width="24.5" height="4.57" fill="#00ffcf"/>
<rect x="1622" y="645.09" width="24.5" height="4.57" fill="#00ffdf"/>
<rect x="1622" y="649.35" width="24.5" height="4.57" fill="#00ffef"/>
<rect x="1622" y="653.62" width="24.5" height="4.57" fill="#00ffff"/>
<rect x="1622" y="657.88" width="24.5" height="4.57" fill="#00efff"/>
<rect x="1622" y="662.15" width="24.5" height="4.57" fill="#00dfff"/>
<rect x="1622" y="666.41" width="24.5" height="4.57" fill="#00cfff"/>
<rect x="1622" y="670.68" width="24.5" height="4.57" fill="#00bfff"/>
<rect x="1622" y="674.95" width="24.5" height="4.57" fill="#00afff"/>
<rect x="1622" y="679.21" width="24.5" height="4.57" fill="#009fff"/>
<rect x="1622" y="683.48" width="24.5" height="4.57" fill="#008fff"/>
<rect x="1622" y="687.74" width="24.5" height="4.57" fill="#0080ff"/>
<rect x="1622" y="692.01" width="24.5" height="4.57" fill="#0070ff"/>
<rect x="1622" y="696.27" width="24.5" height="4.57" fill="#0060ff"/>
<rect x="1622" y="700.54" width="24.5" height="4.57" fill="#0050ff"/>
<rect x="1622" y="704.80" width="24.5" height="4.57" fill="#0040ff"/>
<rect x="1622" y="709.07" width="24.5" height="4.57" fill="#0030ff"/>
<rect x="1622" y="713.34" width="24.5" height="4.57" fill="#0020ff"/>
<rect x="1622" y="717.60" width="24.5" height="4.57" fill="#0010ff"/>
<rect x="1622" y="721.87" width="24.5" height="4.57" fill="#0000ff"/>
<rect x="1622" y="726.13" width="24.5" height="4.37" fill="#0000ff"/>
</g>
<rect x="1622" y="445.3" width="24.5" height="284.90000000000003" fill="none" stroke="#666" stroke-width="1"/>
<path d="M1646.5 451.0h5.6 M1646.5 485.1h5.6 M1646.5 519.2h5.6 M1646.5 553.4h5.6 M1646.5 587.5h5.6 M1646.5 621.6h5.6 M1646.5 655.8h5.6 M1646.5 689.9h5.6 M1646.5 724.0h5.6" stroke="#444" stroke-width="1.2" fill="none"/>
<text x="1665.0" y="458.3" font-size="26.3" text-anchor="start" font-weight="normal" >1.00</text>
<text x="1663.0" y="520.5" font-size="26.3" text-anchor="start" font-weight="normal" >0.996</text>
<text x="1665.0" y="593.3" font-size="26.3" text-anchor="start" font-weight="normal" >0.992</text>
<text x="1666.0" y="665.0" font-size="26.3" text-anchor="start" font-weight="normal" >0.988</text>
<text x="1669.0" y="727.8" font-size="26.3" text-anchor="start" font-weight="normal" >0.984</text>
<text x="1601.0" y="416.5" font-size="23" text-anchor="start" font-weight="normal" >Contrast</text>
</svg></body></html>
